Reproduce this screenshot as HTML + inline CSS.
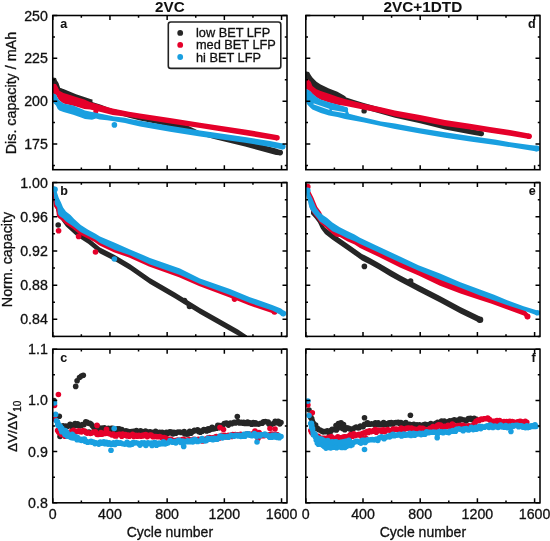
<!DOCTYPE html>
<html><head><meta charset="utf-8"><style>
html,body{margin:0;padding:0;background:#fff;}
svg{display:block;}
.wrap{will-change:transform;width:550px;height:541px;}
text{font-family:"Liberation Sans", sans-serif;fill:#111;stroke:#111;stroke-width:0.3px;}
text[font-weight=bold]{stroke-width:0.05px;}
</style></head><body>
<div class="wrap"><svg width="550" height="541" viewBox="0 0 550 541">
<g>
<rect width="550" height="541" fill="#fff"/>
<defs>
<clipPath id="clipa"><rect x="52.75" y="15.50" width="234.25" height="154.20"/></clipPath>
<clipPath id="clipb"><rect x="52.75" y="182.60" width="234.25" height="153.80"/></clipPath>
<clipPath id="clipc"><rect x="52.75" y="349.20" width="234.25" height="153.60"/></clipPath>
<clipPath id="clipd"><rect x="305.80" y="15.50" width="234.20" height="154.20"/></clipPath>
<clipPath id="clipe"><rect x="305.80" y="182.60" width="234.20" height="153.80"/></clipPath>
<clipPath id="clipf"><rect x="305.80" y="349.20" width="234.20" height="153.60"/></clipPath>
</defs>
<g clip-path="url(#clipa)">
<path d="M53.0,77.4 56.0,77.9 56.9,80.4 58.5,82.9 59.4,85.8 60.2,87.9 63.5,89.1 67.7,90.8 76.1,94.2 84.4,97.1 91.1,99.2 92.5,99.6 L92.5,104.0 91.1,103.5 84.4,101.5 76.1,99.0 67.7,96.0 63.5,95.0 60.2,93.0 59.4,92.0 58.5,90.0 56.9,88.0 56.0,85.5 53.0,85.0Z" fill="#262626"/>
<path d="M53.0,82.0 60.0,88.0 73.0,94.0 92.2,102.0 101.0,104.8 108.0,107.6 112.7,109.0 129.0,112.4 140.0,114.6 170.0,121.5 180.0,123.8 188.0,125.8 194.0,128.6 201.0,132.0 215.0,134.5 245.0,140.5 276.0,148.5 280.2,149.9 280.2,155.3 276.0,155.0 245.0,146.6 215.0,139.3 205.0,136.5 195.0,132.5 185.0,129.0 170.0,126.5 140.0,120.5 129.0,117.8 112.7,113.0 101.0,110.0 92.2,107.0 73.0,101.0 60.0,96.0 53.0,90.0Z" fill="#262626"/>
<circle cx="280.2" cy="152.6" r="2.8" fill="#262626"/>
<path d="M53.0,83.7 56.0,84.1 57.7,87.0 59.4,90.8 63.5,92.9 67.7,94.2 76.1,97.1 84.4,99.6 90.0,102.0 101.8,105.6 112.7,108.5 129.0,111.8 140.0,113.4 170.0,118.1 200.0,122.7 245.0,129.5 277.0,134.9 L277.0,140.4 245.0,135.2 200.0,128.0 170.0,123.5 140.0,118.7 129.0,117.1 112.7,114.9 101.8,112.2 90.0,109.5 84.4,109.0 76.1,106.5 67.7,104.5 63.5,103.5 59.4,100.5 57.7,98.0 56.0,95.0 53.0,93.5Z" fill="#e5002a"/>
<circle cx="277.0" cy="137.7" r="2.75" fill="#e5002a"/>
<circle cx="95.8" cy="111.6" r="2.5" fill="#e5002a"/>
<path d="M53.0,93.3 56.0,94.6 57.7,97.9 59.4,100.4 63.5,103.6 73.2,105.6 81.7,109.0 85.0,110.5 92.0,112.0 96.0,112.8 99.5,113.6 107.0,115.0 114.0,116.5 125.0,117.8 129.0,118.7 140.0,120.8 170.0,125.7 200.0,130.5 245.0,137.0 270.0,141.0 282.6,143.6 L282.6,149.6 270.0,147.0 245.0,142.7 200.0,136.5 170.0,131.7 140.0,126.4 129.0,124.0 125.0,123.1 114.0,121.3 107.0,120.3 99.5,119.5 96.0,118.6 92.0,119.8 85.0,119.1 81.7,117.8 73.2,114.8 63.5,112.0 59.4,110.5 57.7,109.0 56.0,105.5 53.0,102.6Z" fill="#199fe0"/>
<circle cx="282.6" cy="146.6" r="3.00" fill="#199fe0"/>
<circle cx="114.4" cy="124.9" r="2.8" fill="#199fe0"/>
</g>
<g clip-path="url(#clipd)">
<path d="M305.5,71.3 309.0,72.1 310.7,75.0 312.4,77.5 316.5,81.7 320.7,84.6 329.0,88.4 337.4,91.8 344.1,95.5 345.8,96.8 L345.8,102.0 344.1,101.0 337.4,98.0 329.0,95.0 320.7,92.0 316.5,90.0 312.4,86.0 310.7,83.0 309.0,81.0 305.5,80.0Z" fill="#262626"/>
<path d="M305.5,78.0 320.0,86.0 344.0,96.8 354.0,100.0 363.0,102.7 395.0,111.7 420.0,117.5 445.0,124.0 470.0,129.0 481.4,131.0 L481.4,136.2 470.0,134.3 445.0,129.5 420.0,123.2 395.0,117.7 363.0,108.7 354.0,106.0 344.0,102.5 320.0,94.0 305.5,86.0Z" fill="#262626"/>
<circle cx="481.4" cy="133.6" r="2.60" fill="#262626"/>
<circle cx="364.1" cy="110.9" r="2.7" fill="#262626"/>
<path d="M305.5,80.1 308.2,79.6 310.7,81.7 312.4,85.9 316.5,89.2 320.7,90.9 329.0,93.8 337.4,96.8 345.8,99.3 363.0,103.6 381.0,107.2 395.0,110.5 420.0,115.0 445.0,120.0 470.0,123.8 490.0,126.9 510.0,130.0 529.1,133.4 L529.1,139.0 510.0,135.8 490.0,132.7 470.0,129.6 445.0,125.9 420.0,120.9 395.0,116.4 381.0,113.0 363.0,109.5 345.8,106.0 337.4,104.8 329.0,102.5 320.7,99.8 316.5,97.4 312.4,94.1 310.7,92.0 308.2,90.1 305.5,89.2Z" fill="#e5002a"/>
<circle cx="529.1" cy="136.2" r="2.80" fill="#e5002a"/>
<path d="M305.5,89.0 308.2,89.8 310.7,91.5 312.4,93.6 316.5,97.0 320.7,99.5 329.0,102.2 337.4,104.5 344.5,106.5 347.5,110.0 349.0,113.8 363.0,117.3 381.0,121.4 395.0,123.6 420.0,128.2 445.0,132.3 470.0,135.9 495.0,139.6 510.0,142.3 530.0,145.0 536.8,145.8 536.8,151.5 517.0,148.2 499.0,145.5 470.0,141.4 445.0,137.7 420.0,133.6 395.0,129.1 381.0,125.9 363.0,122.3 345.0,119.1 337.4,117.1 329.0,115.4 320.7,112.9 312.4,109.6 310.7,107.9 307.3,104.5 305.5,101.0Z" fill="#199fe0"/>
<circle cx="536.8" cy="148.6" r="3" fill="#199fe0"/>
<circle cx="345.3" cy="109.6" r="2.8" fill="#199fe0"/>
<path d="M314 103.9L329 109.2M332.4 110.5L345 112.8" stroke="#fff" stroke-width="1.1" stroke-linecap="round" opacity="0.9"/>
</g>
<g clip-path="url(#clipb)">
<path d="M53.5,194.5 55.0,200.0 57.0,206.5 60.0,212.0 63.0,216.5 66.0,220.4 77.0,230.5 88.2,237.8 100.0,247.5 114.8,255.0 130.0,264.0 150.0,278.0 175.0,292.5 200.0,308.0 238.0,329.5 247.0,335.5 L247.0,341.5 238.0,335.5 200.0,314.0 175.0,298.5 150.0,284.0 130.0,270.0 114.8,261.0 100.0,253.5 88.2,243.8 77.0,236.5 66.0,226.4 63.0,222.5 60.0,218.0 57.0,212.5 55.0,206.0 53.5,200.5Z" fill="#262626"/>
<circle cx="58.2" cy="225.0" r="2.8" fill="#262626"/>
<circle cx="184.5" cy="300.5" r="2.8" fill="#262626"/>
<circle cx="189.5" cy="306.5" r="2.8" fill="#262626"/>
<path d="M52.5,188.5 54.0,188.4 56.2,195.3 57.7,199.8 59.9,204.2 62.1,209.4 65.0,213.5 69.5,217.0 73.2,221.0 79.8,227.0 87.2,231.8 94.6,235.8 99.0,238.5 113.8,244.7 129.0,251.4 149.0,259.9 179.0,270.6 199.0,280.4 229.0,291.0 249.0,299.2 271.2,307.0 275.0,308.0 275.5,314.6 271.2,312.7 249.0,305.3 229.0,297.2 199.0,286.1 179.0,277.2 149.0,266.6 129.0,257.5 113.8,252.3 99.0,245.2 94.6,241.9 87.2,238.2 79.8,234.5 72.4,228.6 65.0,223.8 62.1,220.7 58.4,218.1 56.9,216.2 56.2,209.6 54.0,206.6 52.5,195.2Z" fill="#e5002a"/>
<circle cx="274.5" cy="311.8" r="3" fill="#e5002a"/>
<circle cx="58.6" cy="230.7" r="2.8" fill="#e5002a"/>
<circle cx="78.6" cy="236.4" r="2.8" fill="#e5002a"/>
<circle cx="95.5" cy="252.0" r="2.8" fill="#e5002a"/>
<circle cx="234.5" cy="299.1" r="2.8" fill="#e5002a"/>
<path d="M53.5,186.5 55.0,186.4 57.2,193.3 58.7,197.8 60.9,202.2 63.1,207.4 66.0,211.5 70.5,215.0 74.2,219.0 80.8,225.0 88.2,229.8 95.6,233.8 100.0,236.5 114.8,242.7 130.0,249.4 150.0,257.9 180.0,268.6 200.0,278.4 230.0,289.0 250.0,297.2 272.2,305.0 281.0,308.5 283.6,310.6 283.6,316.4 272.2,310.5 250.0,303.1 230.0,295.0 200.0,283.9 180.0,275.0 150.0,264.4 130.0,255.3 114.8,250.1 100.0,243.0 95.6,239.7 88.2,236.0 80.8,232.3 73.4,226.4 66.0,221.6 63.1,218.5 59.4,215.9 57.9,214.0 57.2,207.4 55.0,204.4 53.5,193.0Z" fill="#199fe0"/>
<circle cx="283.2" cy="313.5" r="3" fill="#199fe0"/>
<circle cx="55.0" cy="189.4" r="2.8" fill="#199fe0"/>
<circle cx="114.4" cy="259.0" r="2.8" fill="#199fe0"/>
</g>
<g clip-path="url(#clipe)">
<path d="M311.0,209.0 315.0,213.5 318.0,218.0 321.0,222.2 325.0,227.5 332.4,233.2 340.0,238.5 347.2,243.5 355.0,249.0 362.0,253.9 370.0,258.0 378.5,262.7 390.0,269.6 400.0,275.2 411.0,281.0 418.5,285.0 440.0,296.0 460.4,306.9 480.0,316.5 L480.0,323.1 460.4,313.5 440.0,302.6 418.5,291.6 411.0,287.6 400.0,281.8 390.0,276.2 378.5,269.3 370.0,264.6 362.0,260.5 355.0,255.6 347.2,250.1 340.0,245.1 332.4,239.8 325.0,234.1 321.0,228.8 318.0,222.5 315.0,218.5 311.0,214.0Z" fill="#262626"/>
<circle cx="480.0" cy="319.8" r="3.30" fill="#262626"/>
<circle cx="364.4" cy="266.4" r="2.8" fill="#262626"/>
<circle cx="410.6" cy="281.0" r="2.8" fill="#262626"/>
<path d="M307.4,186.5 310.6,192.1 312.1,195.1 313.6,198.0 315.1,201.7 317.3,206.9 321.0,212.1 323.5,217.5 327.2,219.9 332.4,224.4 339.8,229.2 347.2,232.9 354.6,236.6 360.0,239.8 378.5,248.6 400.0,258.5 418.5,267.2 440.0,275.6 460.4,284.2 480.0,291.6 494.2,296.8 507.3,302.3 523.6,308.3 528.0,313.6 528.0,319.4 523.6,315.5 507.3,309.5 490.9,303.5 480.0,300.1 460.4,293.4 440.0,285.8 418.5,275.4 400.0,267.5 378.5,256.8 360.0,248.0 354.6,244.5 347.2,241.2 339.8,237.0 336.0,236.8 332.4,234.0 325.0,227.2 319.8,223.0 317.6,219.8 314.0,215.2 311.0,210.5 309.0,205.0Z" fill="#e5002a"/>
<circle cx="527.5" cy="316.6" r="3" fill="#e5002a"/>
<circle cx="307.6" cy="186.7" r="3" fill="#e5002a"/>
<path d="M306.2,187.0 309.4,192.6 310.9,195.6 312.4,198.5 313.9,202.2 316.1,207.4 319.8,212.6 323.5,215.5 327.2,217.9 332.4,222.4 339.8,227.2 347.2,230.9 354.6,234.6 360.0,237.8 378.5,246.6 400.0,256.5 418.5,265.2 440.0,273.6 460.4,282.2 480.0,289.6 494.2,294.8 507.3,300.3 523.6,306.3 536.7,310.2 536.7,315.2 523.6,310.6 507.3,305.2 480.0,295.5 460.4,287.8 440.0,279.7 418.5,270.8 400.0,262.5 378.5,252.6 360.0,243.9 354.6,241.2 347.2,238.3 339.8,234.6 332.4,231.2 325.0,225.0 319.8,221.4 317.6,218.5 313.9,214.0 310.9,210.3 309.4,207.4 308.0,201.5 306.2,194.8Z" fill="#199fe0"/>
<circle cx="537.4" cy="312.8" r="2.8" fill="#199fe0"/>
<circle cx="307.6" cy="190.5" r="3" fill="#199fe0"/>
</g>
<g clip-path="url(#clipc)">
<path d="M57.0 427.6a2.8 2.8 0 1 0 5.6 0a2.8 2.8 0 1 0 -5.6 0M58.6 427.7a2.8 2.8 0 1 0 5.6 0a2.8 2.8 0 1 0 -5.6 0M60.3 425.9a2.8 2.8 0 1 0 5.6 0a2.8 2.8 0 1 0 -5.6 0M61.3 428.2a2.8 2.8 0 1 0 5.6 0a2.8 2.8 0 1 0 -5.6 0M63.0 426.1a2.8 2.8 0 1 0 5.6 0a2.8 2.8 0 1 0 -5.6 0M64.9 426.3a2.8 2.8 0 1 0 5.6 0a2.8 2.8 0 1 0 -5.6 0M66.1 425.8a2.8 2.8 0 1 0 5.6 0a2.8 2.8 0 1 0 -5.6 0M67.3 424.2a2.8 2.8 0 1 0 5.6 0a2.8 2.8 0 1 0 -5.6 0M69.0 426.4a2.8 2.8 0 1 0 5.6 0a2.8 2.8 0 1 0 -5.6 0M70.6 425.9a2.8 2.8 0 1 0 5.6 0a2.8 2.8 0 1 0 -5.6 0M72.3 423.6a2.8 2.8 0 1 0 5.6 0a2.8 2.8 0 1 0 -5.6 0M73.7 425.5a2.8 2.8 0 1 0 5.6 0a2.8 2.8 0 1 0 -5.6 0M74.7 423.8a2.8 2.8 0 1 0 5.6 0a2.8 2.8 0 1 0 -5.6 0M76.5 425.4a2.8 2.8 0 1 0 5.6 0a2.8 2.8 0 1 0 -5.6 0M77.5 426.0a2.8 2.8 0 1 0 5.6 0a2.8 2.8 0 1 0 -5.6 0M78.6 425.5a2.8 2.8 0 1 0 5.6 0a2.8 2.8 0 1 0 -5.6 0M79.5 424.5a2.8 2.8 0 1 0 5.6 0a2.8 2.8 0 1 0 -5.6 0M81.1 424.7a2.8 2.8 0 1 0 5.6 0a2.8 2.8 0 1 0 -5.6 0M83.0 421.9a2.8 2.8 0 1 0 5.6 0a2.8 2.8 0 1 0 -5.6 0M83.9 422.1a2.8 2.8 0 1 0 5.6 0a2.8 2.8 0 1 0 -5.6 0M85.9 423.3a2.8 2.8 0 1 0 5.6 0a2.8 2.8 0 1 0 -5.6 0M87.0 423.4a2.8 2.8 0 1 0 5.6 0a2.8 2.8 0 1 0 -5.6 0M88.2 424.1a2.8 2.8 0 1 0 5.6 0a2.8 2.8 0 1 0 -5.6 0M89.4 425.6a2.8 2.8 0 1 0 5.6 0a2.8 2.8 0 1 0 -5.6 0M90.9 427.5a2.8 2.8 0 1 0 5.6 0a2.8 2.8 0 1 0 -5.6 0M92.3 428.4a2.8 2.8 0 1 0 5.6 0a2.8 2.8 0 1 0 -5.6 0M93.9 429.0a2.8 2.8 0 1 0 5.6 0a2.8 2.8 0 1 0 -5.6 0M95.1 426.7a2.8 2.8 0 1 0 5.6 0a2.8 2.8 0 1 0 -5.6 0M96.7 429.7a2.8 2.8 0 1 0 5.6 0a2.8 2.8 0 1 0 -5.6 0M98.1 428.8a2.8 2.8 0 1 0 5.6 0a2.8 2.8 0 1 0 -5.6 0M99.4 428.1a2.8 2.8 0 1 0 5.6 0a2.8 2.8 0 1 0 -5.6 0M100.8 429.3a2.8 2.8 0 1 0 5.6 0a2.8 2.8 0 1 0 -5.6 0M101.6 427.8a2.8 2.8 0 1 0 5.6 0a2.8 2.8 0 1 0 -5.6 0M103.4 430.9a2.8 2.8 0 1 0 5.6 0a2.8 2.8 0 1 0 -5.6 0M104.1 430.4a2.8 2.8 0 1 0 5.6 0a2.8 2.8 0 1 0 -5.6 0M105.6 428.4a2.8 2.8 0 1 0 5.6 0a2.8 2.8 0 1 0 -5.6 0M106.8 430.5a2.8 2.8 0 1 0 5.6 0a2.8 2.8 0 1 0 -5.6 0M108.6 428.2a2.8 2.8 0 1 0 5.6 0a2.8 2.8 0 1 0 -5.6 0M109.7 428.3a2.8 2.8 0 1 0 5.6 0a2.8 2.8 0 1 0 -5.6 0M111.1 429.4a2.8 2.8 0 1 0 5.6 0a2.8 2.8 0 1 0 -5.6 0M112.5 431.5a2.8 2.8 0 1 0 5.6 0a2.8 2.8 0 1 0 -5.6 0M113.5 431.7a2.8 2.8 0 1 0 5.6 0a2.8 2.8 0 1 0 -5.6 0M114.7 428.9a2.8 2.8 0 1 0 5.6 0a2.8 2.8 0 1 0 -5.6 0M116.3 428.9a2.8 2.8 0 1 0 5.6 0a2.8 2.8 0 1 0 -5.6 0M117.3 430.2a2.8 2.8 0 1 0 5.6 0a2.8 2.8 0 1 0 -5.6 0M119.0 429.6a2.8 2.8 0 1 0 5.6 0a2.8 2.8 0 1 0 -5.6 0M119.8 432.0a2.8 2.8 0 1 0 5.6 0a2.8 2.8 0 1 0 -5.6 0M121.4 432.4a2.8 2.8 0 1 0 5.6 0a2.8 2.8 0 1 0 -5.6 0M123.2 430.7a2.8 2.8 0 1 0 5.6 0a2.8 2.8 0 1 0 -5.6 0M124.2 431.3a2.8 2.8 0 1 0 5.6 0a2.8 2.8 0 1 0 -5.6 0M125.6 431.6a2.8 2.8 0 1 0 5.6 0a2.8 2.8 0 1 0 -5.6 0M126.9 431.9a2.8 2.8 0 1 0 5.6 0a2.8 2.8 0 1 0 -5.6 0M128.6 431.6a2.8 2.8 0 1 0 5.6 0a2.8 2.8 0 1 0 -5.6 0M129.5 432.4a2.8 2.8 0 1 0 5.6 0a2.8 2.8 0 1 0 -5.6 0M130.7 431.2a2.8 2.8 0 1 0 5.6 0a2.8 2.8 0 1 0 -5.6 0M132.6 432.1a2.8 2.8 0 1 0 5.6 0a2.8 2.8 0 1 0 -5.6 0M133.6 430.5a2.8 2.8 0 1 0 5.6 0a2.8 2.8 0 1 0 -5.6 0M134.9 432.3a2.8 2.8 0 1 0 5.6 0a2.8 2.8 0 1 0 -5.6 0M135.9 432.5a2.8 2.8 0 1 0 5.6 0a2.8 2.8 0 1 0 -5.6 0M137.8 430.8a2.8 2.8 0 1 0 5.6 0a2.8 2.8 0 1 0 -5.6 0M139.1 432.1a2.8 2.8 0 1 0 5.6 0a2.8 2.8 0 1 0 -5.6 0M140.5 431.8a2.8 2.8 0 1 0 5.6 0a2.8 2.8 0 1 0 -5.6 0M141.9 433.1a2.8 2.8 0 1 0 5.6 0a2.8 2.8 0 1 0 -5.6 0M142.7 431.0a2.8 2.8 0 1 0 5.6 0a2.8 2.8 0 1 0 -5.6 0M144.6 433.9a2.8 2.8 0 1 0 5.6 0a2.8 2.8 0 1 0 -5.6 0M145.6 432.3a2.8 2.8 0 1 0 5.6 0a2.8 2.8 0 1 0 -5.6 0M147.3 431.9a2.8 2.8 0 1 0 5.6 0a2.8 2.8 0 1 0 -5.6 0M148.4 432.0a2.8 2.8 0 1 0 5.6 0a2.8 2.8 0 1 0 -5.6 0M149.8 433.0a2.8 2.8 0 1 0 5.6 0a2.8 2.8 0 1 0 -5.6 0M151.0 432.4a2.8 2.8 0 1 0 5.6 0a2.8 2.8 0 1 0 -5.6 0M152.8 431.4a2.8 2.8 0 1 0 5.6 0a2.8 2.8 0 1 0 -5.6 0M153.9 433.8a2.8 2.8 0 1 0 5.6 0a2.8 2.8 0 1 0 -5.6 0M155.0 432.3a2.8 2.8 0 1 0 5.6 0a2.8 2.8 0 1 0 -5.6 0M156.8 432.4a2.8 2.8 0 1 0 5.6 0a2.8 2.8 0 1 0 -5.6 0M157.6 433.2a2.8 2.8 0 1 0 5.6 0a2.8 2.8 0 1 0 -5.6 0M159.4 432.2a2.8 2.8 0 1 0 5.6 0a2.8 2.8 0 1 0 -5.6 0M160.4 432.9a2.8 2.8 0 1 0 5.6 0a2.8 2.8 0 1 0 -5.6 0M162.1 433.1a2.8 2.8 0 1 0 5.6 0a2.8 2.8 0 1 0 -5.6 0M163.5 432.2a2.8 2.8 0 1 0 5.6 0a2.8 2.8 0 1 0 -5.6 0M164.4 433.6a2.8 2.8 0 1 0 5.6 0a2.8 2.8 0 1 0 -5.6 0M166.2 432.9a2.8 2.8 0 1 0 5.6 0a2.8 2.8 0 1 0 -5.6 0M167.0 431.8a2.8 2.8 0 1 0 5.6 0a2.8 2.8 0 1 0 -5.6 0M168.6 432.0a2.8 2.8 0 1 0 5.6 0a2.8 2.8 0 1 0 -5.6 0M170.2 434.0a2.8 2.8 0 1 0 5.6 0a2.8 2.8 0 1 0 -5.6 0M171.1 432.2a2.8 2.8 0 1 0 5.6 0a2.8 2.8 0 1 0 -5.6 0M173.0 433.3a2.8 2.8 0 1 0 5.6 0a2.8 2.8 0 1 0 -5.6 0M174.4 432.3a2.8 2.8 0 1 0 5.6 0a2.8 2.8 0 1 0 -5.6 0M175.2 432.1a2.8 2.8 0 1 0 5.6 0a2.8 2.8 0 1 0 -5.6 0M177.1 432.0a2.8 2.8 0 1 0 5.6 0a2.8 2.8 0 1 0 -5.6 0M178.2 432.4a2.8 2.8 0 1 0 5.6 0a2.8 2.8 0 1 0 -5.6 0M179.6 432.4a2.8 2.8 0 1 0 5.6 0a2.8 2.8 0 1 0 -5.6 0M181.4 431.5a2.8 2.8 0 1 0 5.6 0a2.8 2.8 0 1 0 -5.6 0M182.0 434.0a2.8 2.8 0 1 0 5.6 0a2.8 2.8 0 1 0 -5.6 0M184.1 434.1a2.8 2.8 0 1 0 5.6 0a2.8 2.8 0 1 0 -5.6 0M185.1 433.9a2.8 2.8 0 1 0 5.6 0a2.8 2.8 0 1 0 -5.6 0M186.9 431.4a2.8 2.8 0 1 0 5.6 0a2.8 2.8 0 1 0 -5.6 0M188.1 433.2a2.8 2.8 0 1 0 5.6 0a2.8 2.8 0 1 0 -5.6 0M189.3 432.1a2.8 2.8 0 1 0 5.6 0a2.8 2.8 0 1 0 -5.6 0M190.4 431.3a2.8 2.8 0 1 0 5.6 0a2.8 2.8 0 1 0 -5.6 0M191.6 430.3a2.8 2.8 0 1 0 5.6 0a2.8 2.8 0 1 0 -5.6 0M193.3 430.8a2.8 2.8 0 1 0 5.6 0a2.8 2.8 0 1 0 -5.6 0M194.8 429.9a2.8 2.8 0 1 0 5.6 0a2.8 2.8 0 1 0 -5.6 0M196.2 431.8a2.8 2.8 0 1 0 5.6 0a2.8 2.8 0 1 0 -5.6 0M197.5 432.3a2.8 2.8 0 1 0 5.6 0a2.8 2.8 0 1 0 -5.6 0M198.9 430.9a2.8 2.8 0 1 0 5.6 0a2.8 2.8 0 1 0 -5.6 0M199.5 431.2a2.8 2.8 0 1 0 5.6 0a2.8 2.8 0 1 0 -5.6 0M201.0 429.5a2.8 2.8 0 1 0 5.6 0a2.8 2.8 0 1 0 -5.6 0M202.8 429.9a2.8 2.8 0 1 0 5.6 0a2.8 2.8 0 1 0 -5.6 0M203.9 430.9a2.8 2.8 0 1 0 5.6 0a2.8 2.8 0 1 0 -5.6 0M205.4 428.7a2.8 2.8 0 1 0 5.6 0a2.8 2.8 0 1 0 -5.6 0M206.5 430.1a2.8 2.8 0 1 0 5.6 0a2.8 2.8 0 1 0 -5.6 0M208.1 429.5a2.8 2.8 0 1 0 5.6 0a2.8 2.8 0 1 0 -5.6 0M209.3 427.3a2.8 2.8 0 1 0 5.6 0a2.8 2.8 0 1 0 -5.6 0M210.8 429.0a2.8 2.8 0 1 0 5.6 0a2.8 2.8 0 1 0 -5.6 0M211.8 428.6a2.8 2.8 0 1 0 5.6 0a2.8 2.8 0 1 0 -5.6 0M213.8 428.3a2.8 2.8 0 1 0 5.6 0a2.8 2.8 0 1 0 -5.6 0M215.0 425.3a2.8 2.8 0 1 0 5.6 0a2.8 2.8 0 1 0 -5.6 0M216.1 427.7a2.8 2.8 0 1 0 5.6 0a2.8 2.8 0 1 0 -5.6 0M217.0 425.5a2.8 2.8 0 1 0 5.6 0a2.8 2.8 0 1 0 -5.6 0M218.5 425.9a2.8 2.8 0 1 0 5.6 0a2.8 2.8 0 1 0 -5.6 0M219.9 425.4a2.8 2.8 0 1 0 5.6 0a2.8 2.8 0 1 0 -5.6 0M221.5 423.5a2.8 2.8 0 1 0 5.6 0a2.8 2.8 0 1 0 -5.6 0M222.2 423.5a2.8 2.8 0 1 0 5.6 0a2.8 2.8 0 1 0 -5.6 0M223.6 423.0a2.8 2.8 0 1 0 5.6 0a2.8 2.8 0 1 0 -5.6 0M225.6 425.1a2.8 2.8 0 1 0 5.6 0a2.8 2.8 0 1 0 -5.6 0M226.2 423.8a2.8 2.8 0 1 0 5.6 0a2.8 2.8 0 1 0 -5.6 0M227.6 423.0a2.8 2.8 0 1 0 5.6 0a2.8 2.8 0 1 0 -5.6 0M228.9 423.8a2.8 2.8 0 1 0 5.6 0a2.8 2.8 0 1 0 -5.6 0M230.4 422.7a2.8 2.8 0 1 0 5.6 0a2.8 2.8 0 1 0 -5.6 0M231.4 422.4a2.8 2.8 0 1 0 5.6 0a2.8 2.8 0 1 0 -5.6 0M232.6 422.9a2.8 2.8 0 1 0 5.6 0a2.8 2.8 0 1 0 -5.6 0M234.4 422.1a2.8 2.8 0 1 0 5.6 0a2.8 2.8 0 1 0 -5.6 0M235.2 421.5a2.8 2.8 0 1 0 5.6 0a2.8 2.8 0 1 0 -5.6 0M236.8 422.9a2.8 2.8 0 1 0 5.6 0a2.8 2.8 0 1 0 -5.6 0M238.4 422.2a2.8 2.8 0 1 0 5.6 0a2.8 2.8 0 1 0 -5.6 0M239.8 423.1a2.8 2.8 0 1 0 5.6 0a2.8 2.8 0 1 0 -5.6 0M240.8 422.3a2.8 2.8 0 1 0 5.6 0a2.8 2.8 0 1 0 -5.6 0M242.2 423.4a2.8 2.8 0 1 0 5.6 0a2.8 2.8 0 1 0 -5.6 0M243.5 423.4a2.8 2.8 0 1 0 5.6 0a2.8 2.8 0 1 0 -5.6 0M244.8 422.0a2.8 2.8 0 1 0 5.6 0a2.8 2.8 0 1 0 -5.6 0M246.2 423.5a2.8 2.8 0 1 0 5.6 0a2.8 2.8 0 1 0 -5.6 0M247.2 422.7a2.8 2.8 0 1 0 5.6 0a2.8 2.8 0 1 0 -5.6 0M248.8 424.2a2.8 2.8 0 1 0 5.6 0a2.8 2.8 0 1 0 -5.6 0M250.5 422.6a2.8 2.8 0 1 0 5.6 0a2.8 2.8 0 1 0 -5.6 0M251.9 423.9a2.8 2.8 0 1 0 5.6 0a2.8 2.8 0 1 0 -5.6 0M252.7 422.9a2.8 2.8 0 1 0 5.6 0a2.8 2.8 0 1 0 -5.6 0M254.0 424.0a2.8 2.8 0 1 0 5.6 0a2.8 2.8 0 1 0 -5.6 0M255.8 424.2a2.8 2.8 0 1 0 5.6 0a2.8 2.8 0 1 0 -5.6 0M257.2 423.5a2.8 2.8 0 1 0 5.6 0a2.8 2.8 0 1 0 -5.6 0M258.5 423.2a2.8 2.8 0 1 0 5.6 0a2.8 2.8 0 1 0 -5.6 0M259.4 423.3a2.8 2.8 0 1 0 5.6 0a2.8 2.8 0 1 0 -5.6 0M260.7 421.9a2.8 2.8 0 1 0 5.6 0a2.8 2.8 0 1 0 -5.6 0M262.6 421.5a2.8 2.8 0 1 0 5.6 0a2.8 2.8 0 1 0 -5.6 0M263.4 421.7a2.8 2.8 0 1 0 5.6 0a2.8 2.8 0 1 0 -5.6 0M265.4 422.0a2.8 2.8 0 1 0 5.6 0a2.8 2.8 0 1 0 -5.6 0M266.1 424.1a2.8 2.8 0 1 0 5.6 0a2.8 2.8 0 1 0 -5.6 0M267.5 424.1a2.8 2.8 0 1 0 5.6 0a2.8 2.8 0 1 0 -5.6 0M269.3 424.1a2.8 2.8 0 1 0 5.6 0a2.8 2.8 0 1 0 -5.6 0M271.1 423.2a2.8 2.8 0 1 0 5.6 0a2.8 2.8 0 1 0 -5.6 0M272.4 421.3a2.8 2.8 0 1 0 5.6 0a2.8 2.8 0 1 0 -5.6 0M273.9 422.8a2.8 2.8 0 1 0 5.6 0a2.8 2.8 0 1 0 -5.6 0M275.4 421.4a2.8 2.8 0 1 0 5.6 0a2.8 2.8 0 1 0 -5.6 0M276.9 424.0a2.8 2.8 0 1 0 5.6 0a2.8 2.8 0 1 0 -5.6 0M278.2 422.5a2.8 2.8 0 1 0 5.6 0a2.8 2.8 0 1 0 -5.6 0" fill="#262626"/>
<circle cx="54.0" cy="400.5" r="2.8" fill="#262626"/>
<circle cx="59.3" cy="416.2" r="2.8" fill="#262626"/>
<circle cx="75.7" cy="386.4" r="2.8" fill="#262626"/>
<circle cx="77.1" cy="380.8" r="2.8" fill="#262626"/>
<circle cx="79.5" cy="377.5" r="2.8" fill="#262626"/>
<circle cx="81.5" cy="376.0" r="2.8" fill="#262626"/>
<circle cx="83.3" cy="375.2" r="2.8" fill="#262626"/>
<circle cx="237.3" cy="416.5" r="2.8" fill="#262626"/>
<circle cx="60.0" cy="436.5" r="2.8" fill="#262626"/>
<circle cx="85.0" cy="431.5" r="2.8" fill="#262626"/>
<circle cx="89.0" cy="432.0" r="2.8" fill="#262626"/>
<path d="M54.8 430.6a2.8 2.8 0 1 0 5.6 0a2.8 2.8 0 1 0 -5.6 0M55.8 432.1a2.8 2.8 0 1 0 5.6 0a2.8 2.8 0 1 0 -5.6 0M56.6 433.0a2.8 2.8 0 1 0 5.6 0a2.8 2.8 0 1 0 -5.6 0M56.9 432.9a2.8 2.8 0 1 0 5.6 0a2.8 2.8 0 1 0 -5.6 0M58.6 434.4a2.8 2.8 0 1 0 5.6 0a2.8 2.8 0 1 0 -5.6 0M59.9 433.7a2.8 2.8 0 1 0 5.6 0a2.8 2.8 0 1 0 -5.6 0M60.8 434.7a2.8 2.8 0 1 0 5.6 0a2.8 2.8 0 1 0 -5.6 0M62.2 436.2a2.8 2.8 0 1 0 5.6 0a2.8 2.8 0 1 0 -5.6 0M63.1 434.6a2.8 2.8 0 1 0 5.6 0a2.8 2.8 0 1 0 -5.6 0M64.5 435.5a2.8 2.8 0 1 0 5.6 0a2.8 2.8 0 1 0 -5.6 0M66.2 432.9a2.8 2.8 0 1 0 5.6 0a2.8 2.8 0 1 0 -5.6 0M67.4 432.1a2.8 2.8 0 1 0 5.6 0a2.8 2.8 0 1 0 -5.6 0M68.5 431.5a2.8 2.8 0 1 0 5.6 0a2.8 2.8 0 1 0 -5.6 0M69.3 432.6a2.8 2.8 0 1 0 5.6 0a2.8 2.8 0 1 0 -5.6 0M70.7 430.4a2.8 2.8 0 1 0 5.6 0a2.8 2.8 0 1 0 -5.6 0M72.6 431.4a2.8 2.8 0 1 0 5.6 0a2.8 2.8 0 1 0 -5.6 0M73.7 431.6a2.8 2.8 0 1 0 5.6 0a2.8 2.8 0 1 0 -5.6 0M75.6 430.9a2.8 2.8 0 1 0 5.6 0a2.8 2.8 0 1 0 -5.6 0M77.0 431.6a2.8 2.8 0 1 0 5.6 0a2.8 2.8 0 1 0 -5.6 0M78.6 432.0a2.8 2.8 0 1 0 5.6 0a2.8 2.8 0 1 0 -5.6 0M80.0 430.8a2.8 2.8 0 1 0 5.6 0a2.8 2.8 0 1 0 -5.6 0M80.8 430.8a2.8 2.8 0 1 0 5.6 0a2.8 2.8 0 1 0 -5.6 0M81.9 431.0a2.8 2.8 0 1 0 5.6 0a2.8 2.8 0 1 0 -5.6 0M83.3 432.6a2.8 2.8 0 1 0 5.6 0a2.8 2.8 0 1 0 -5.6 0M84.3 433.2a2.8 2.8 0 1 0 5.6 0a2.8 2.8 0 1 0 -5.6 0M85.8 432.7a2.8 2.8 0 1 0 5.6 0a2.8 2.8 0 1 0 -5.6 0M87.5 433.5a2.8 2.8 0 1 0 5.6 0a2.8 2.8 0 1 0 -5.6 0M88.7 433.3a2.8 2.8 0 1 0 5.6 0a2.8 2.8 0 1 0 -5.6 0M90.7 432.1a2.8 2.8 0 1 0 5.6 0a2.8 2.8 0 1 0 -5.6 0M92.6 431.9a2.8 2.8 0 1 0 5.6 0a2.8 2.8 0 1 0 -5.6 0M94.1 434.2a2.8 2.8 0 1 0 5.6 0a2.8 2.8 0 1 0 -5.6 0M95.1 434.4a2.8 2.8 0 1 0 5.6 0a2.8 2.8 0 1 0 -5.6 0M97.1 434.2a2.8 2.8 0 1 0 5.6 0a2.8 2.8 0 1 0 -5.6 0M98.1 432.5a2.8 2.8 0 1 0 5.6 0a2.8 2.8 0 1 0 -5.6 0M99.5 434.3a2.8 2.8 0 1 0 5.6 0a2.8 2.8 0 1 0 -5.6 0M100.9 433.4a2.8 2.8 0 1 0 5.6 0a2.8 2.8 0 1 0 -5.6 0M102.7 433.5a2.8 2.8 0 1 0 5.6 0a2.8 2.8 0 1 0 -5.6 0M103.6 431.7a2.8 2.8 0 1 0 5.6 0a2.8 2.8 0 1 0 -5.6 0M105.1 433.1a2.8 2.8 0 1 0 5.6 0a2.8 2.8 0 1 0 -5.6 0M106.2 433.6a2.8 2.8 0 1 0 5.6 0a2.8 2.8 0 1 0 -5.6 0M108.2 434.3a2.8 2.8 0 1 0 5.6 0a2.8 2.8 0 1 0 -5.6 0M109.0 435.0a2.8 2.8 0 1 0 5.6 0a2.8 2.8 0 1 0 -5.6 0M110.5 434.0a2.8 2.8 0 1 0 5.6 0a2.8 2.8 0 1 0 -5.6 0M112.3 435.9a2.8 2.8 0 1 0 5.6 0a2.8 2.8 0 1 0 -5.6 0M113.4 435.9a2.8 2.8 0 1 0 5.6 0a2.8 2.8 0 1 0 -5.6 0M114.9 434.5a2.8 2.8 0 1 0 5.6 0a2.8 2.8 0 1 0 -5.6 0M116.1 434.2a2.8 2.8 0 1 0 5.6 0a2.8 2.8 0 1 0 -5.6 0M117.2 434.2a2.8 2.8 0 1 0 5.6 0a2.8 2.8 0 1 0 -5.6 0M119.0 436.2a2.8 2.8 0 1 0 5.6 0a2.8 2.8 0 1 0 -5.6 0M119.9 434.0a2.8 2.8 0 1 0 5.6 0a2.8 2.8 0 1 0 -5.6 0M121.9 435.2a2.8 2.8 0 1 0 5.6 0a2.8 2.8 0 1 0 -5.6 0M122.8 434.5a2.8 2.8 0 1 0 5.6 0a2.8 2.8 0 1 0 -5.6 0M124.3 435.9a2.8 2.8 0 1 0 5.6 0a2.8 2.8 0 1 0 -5.6 0M125.5 435.0a2.8 2.8 0 1 0 5.6 0a2.8 2.8 0 1 0 -5.6 0M126.5 436.2a2.8 2.8 0 1 0 5.6 0a2.8 2.8 0 1 0 -5.6 0M127.8 435.2a2.8 2.8 0 1 0 5.6 0a2.8 2.8 0 1 0 -5.6 0M129.8 434.4a2.8 2.8 0 1 0 5.6 0a2.8 2.8 0 1 0 -5.6 0M131.1 436.4a2.8 2.8 0 1 0 5.6 0a2.8 2.8 0 1 0 -5.6 0M132.3 436.0a2.8 2.8 0 1 0 5.6 0a2.8 2.8 0 1 0 -5.6 0M133.2 435.2a2.8 2.8 0 1 0 5.6 0a2.8 2.8 0 1 0 -5.6 0M134.6 436.2a2.8 2.8 0 1 0 5.6 0a2.8 2.8 0 1 0 -5.6 0M136.1 435.2a2.8 2.8 0 1 0 5.6 0a2.8 2.8 0 1 0 -5.6 0M138.1 436.2a2.8 2.8 0 1 0 5.6 0a2.8 2.8 0 1 0 -5.6 0M139.4 435.3a2.8 2.8 0 1 0 5.6 0a2.8 2.8 0 1 0 -5.6 0M140.4 436.0a2.8 2.8 0 1 0 5.6 0a2.8 2.8 0 1 0 -5.6 0M141.7 434.9a2.8 2.8 0 1 0 5.6 0a2.8 2.8 0 1 0 -5.6 0M143.0 434.6a2.8 2.8 0 1 0 5.6 0a2.8 2.8 0 1 0 -5.6 0M144.4 436.6a2.8 2.8 0 1 0 5.6 0a2.8 2.8 0 1 0 -5.6 0M146.2 435.8a2.8 2.8 0 1 0 5.6 0a2.8 2.8 0 1 0 -5.6 0M147.2 435.1a2.8 2.8 0 1 0 5.6 0a2.8 2.8 0 1 0 -5.6 0M148.3 435.1a2.8 2.8 0 1 0 5.6 0a2.8 2.8 0 1 0 -5.6 0M150.3 436.7a2.8 2.8 0 1 0 5.6 0a2.8 2.8 0 1 0 -5.6 0M151.4 436.6a2.8 2.8 0 1 0 5.6 0a2.8 2.8 0 1 0 -5.6 0M153.1 436.5a2.8 2.8 0 1 0 5.6 0a2.8 2.8 0 1 0 -5.6 0M154.5 436.8a2.8 2.8 0 1 0 5.6 0a2.8 2.8 0 1 0 -5.6 0M155.7 436.8a2.8 2.8 0 1 0 5.6 0a2.8 2.8 0 1 0 -5.6 0M157.0 436.5a2.8 2.8 0 1 0 5.6 0a2.8 2.8 0 1 0 -5.6 0M158.8 437.3a2.8 2.8 0 1 0 5.6 0a2.8 2.8 0 1 0 -5.6 0M159.8 438.2a2.8 2.8 0 1 0 5.6 0a2.8 2.8 0 1 0 -5.6 0M161.4 437.6a2.8 2.8 0 1 0 5.6 0a2.8 2.8 0 1 0 -5.6 0M162.3 437.9a2.8 2.8 0 1 0 5.6 0a2.8 2.8 0 1 0 -5.6 0M163.8 438.5a2.8 2.8 0 1 0 5.6 0a2.8 2.8 0 1 0 -5.6 0M165.4 439.2a2.8 2.8 0 1 0 5.6 0a2.8 2.8 0 1 0 -5.6 0M166.9 439.4a2.8 2.8 0 1 0 5.6 0a2.8 2.8 0 1 0 -5.6 0M168.0 439.4a2.8 2.8 0 1 0 5.6 0a2.8 2.8 0 1 0 -5.6 0M169.7 440.2a2.8 2.8 0 1 0 5.6 0a2.8 2.8 0 1 0 -5.6 0M170.7 440.5a2.8 2.8 0 1 0 5.6 0a2.8 2.8 0 1 0 -5.6 0M172.5 440.5a2.8 2.8 0 1 0 5.6 0a2.8 2.8 0 1 0 -5.6 0M173.9 441.1a2.8 2.8 0 1 0 5.6 0a2.8 2.8 0 1 0 -5.6 0M174.8 440.1a2.8 2.8 0 1 0 5.6 0a2.8 2.8 0 1 0 -5.6 0M175.9 440.9a2.8 2.8 0 1 0 5.6 0a2.8 2.8 0 1 0 -5.6 0M177.8 440.1a2.8 2.8 0 1 0 5.6 0a2.8 2.8 0 1 0 -5.6 0M178.9 440.7a2.8 2.8 0 1 0 5.6 0a2.8 2.8 0 1 0 -5.6 0M180.3 439.4a2.8 2.8 0 1 0 5.6 0a2.8 2.8 0 1 0 -5.6 0M181.6 440.4a2.8 2.8 0 1 0 5.6 0a2.8 2.8 0 1 0 -5.6 0M182.9 440.0a2.8 2.8 0 1 0 5.6 0a2.8 2.8 0 1 0 -5.6 0M184.1 440.9a2.8 2.8 0 1 0 5.6 0a2.8 2.8 0 1 0 -5.6 0M185.5 440.8a2.8 2.8 0 1 0 5.6 0a2.8 2.8 0 1 0 -5.6 0M186.3 439.5a2.8 2.8 0 1 0 5.6 0a2.8 2.8 0 1 0 -5.6 0M187.9 440.7a2.8 2.8 0 1 0 5.6 0a2.8 2.8 0 1 0 -5.6 0M189.1 440.8a2.8 2.8 0 1 0 5.6 0a2.8 2.8 0 1 0 -5.6 0M190.7 439.3a2.8 2.8 0 1 0 5.6 0a2.8 2.8 0 1 0 -5.6 0M191.9 439.7a2.8 2.8 0 1 0 5.6 0a2.8 2.8 0 1 0 -5.6 0M192.9 439.5a2.8 2.8 0 1 0 5.6 0a2.8 2.8 0 1 0 -5.6 0M194.4 439.7a2.8 2.8 0 1 0 5.6 0a2.8 2.8 0 1 0 -5.6 0M195.6 439.4a2.8 2.8 0 1 0 5.6 0a2.8 2.8 0 1 0 -5.6 0M197.2 440.2a2.8 2.8 0 1 0 5.6 0a2.8 2.8 0 1 0 -5.6 0M198.7 440.4a2.8 2.8 0 1 0 5.6 0a2.8 2.8 0 1 0 -5.6 0M199.7 440.9a2.8 2.8 0 1 0 5.6 0a2.8 2.8 0 1 0 -5.6 0M200.9 439.5a2.8 2.8 0 1 0 5.6 0a2.8 2.8 0 1 0 -5.6 0M202.5 439.2a2.8 2.8 0 1 0 5.6 0a2.8 2.8 0 1 0 -5.6 0M203.7 439.9a2.8 2.8 0 1 0 5.6 0a2.8 2.8 0 1 0 -5.6 0M205.3 437.8a2.8 2.8 0 1 0 5.6 0a2.8 2.8 0 1 0 -5.6 0M206.8 437.6a2.8 2.8 0 1 0 5.6 0a2.8 2.8 0 1 0 -5.6 0M208.1 437.9a2.8 2.8 0 1 0 5.6 0a2.8 2.8 0 1 0 -5.6 0M209.5 439.1a2.8 2.8 0 1 0 5.6 0a2.8 2.8 0 1 0 -5.6 0M211.1 437.6a2.8 2.8 0 1 0 5.6 0a2.8 2.8 0 1 0 -5.6 0M212.5 437.8a2.8 2.8 0 1 0 5.6 0a2.8 2.8 0 1 0 -5.6 0M213.5 436.5a2.8 2.8 0 1 0 5.6 0a2.8 2.8 0 1 0 -5.6 0M215.0 437.3a2.8 2.8 0 1 0 5.6 0a2.8 2.8 0 1 0 -5.6 0M216.6 438.1a2.8 2.8 0 1 0 5.6 0a2.8 2.8 0 1 0 -5.6 0M217.7 436.4a2.8 2.8 0 1 0 5.6 0a2.8 2.8 0 1 0 -5.6 0M219.3 435.4a2.8 2.8 0 1 0 5.6 0a2.8 2.8 0 1 0 -5.6 0M220.0 436.6a2.8 2.8 0 1 0 5.6 0a2.8 2.8 0 1 0 -5.6 0M221.8 435.4a2.8 2.8 0 1 0 5.6 0a2.8 2.8 0 1 0 -5.6 0M223.2 437.0a2.8 2.8 0 1 0 5.6 0a2.8 2.8 0 1 0 -5.6 0M224.3 435.7a2.8 2.8 0 1 0 5.6 0a2.8 2.8 0 1 0 -5.6 0M225.6 435.2a2.8 2.8 0 1 0 5.6 0a2.8 2.8 0 1 0 -5.6 0M227.5 435.2a2.8 2.8 0 1 0 5.6 0a2.8 2.8 0 1 0 -5.6 0M228.9 436.4a2.8 2.8 0 1 0 5.6 0a2.8 2.8 0 1 0 -5.6 0M229.9 434.6a2.8 2.8 0 1 0 5.6 0a2.8 2.8 0 1 0 -5.6 0M231.6 435.0a2.8 2.8 0 1 0 5.6 0a2.8 2.8 0 1 0 -5.6 0M232.5 434.5a2.8 2.8 0 1 0 5.6 0a2.8 2.8 0 1 0 -5.6 0M234.3 434.9a2.8 2.8 0 1 0 5.6 0a2.8 2.8 0 1 0 -5.6 0M235.1 434.8a2.8 2.8 0 1 0 5.6 0a2.8 2.8 0 1 0 -5.6 0M236.3 435.1a2.8 2.8 0 1 0 5.6 0a2.8 2.8 0 1 0 -5.6 0M237.9 434.3a2.8 2.8 0 1 0 5.6 0a2.8 2.8 0 1 0 -5.6 0M239.6 435.6a2.8 2.8 0 1 0 5.6 0a2.8 2.8 0 1 0 -5.6 0M240.3 434.8a2.8 2.8 0 1 0 5.6 0a2.8 2.8 0 1 0 -5.6 0M241.9 435.8a2.8 2.8 0 1 0 5.6 0a2.8 2.8 0 1 0 -5.6 0M243.6 434.1a2.8 2.8 0 1 0 5.6 0a2.8 2.8 0 1 0 -5.6 0M244.6 433.8a2.8 2.8 0 1 0 5.6 0a2.8 2.8 0 1 0 -5.6 0M246.5 434.1a2.8 2.8 0 1 0 5.6 0a2.8 2.8 0 1 0 -5.6 0M247.6 434.5a2.8 2.8 0 1 0 5.6 0a2.8 2.8 0 1 0 -5.6 0M249.0 434.8a2.8 2.8 0 1 0 5.6 0a2.8 2.8 0 1 0 -5.6 0M250.4 433.6a2.8 2.8 0 1 0 5.6 0a2.8 2.8 0 1 0 -5.6 0M251.7 434.1a2.8 2.8 0 1 0 5.6 0a2.8 2.8 0 1 0 -5.6 0M252.8 434.2a2.8 2.8 0 1 0 5.6 0a2.8 2.8 0 1 0 -5.6 0M253.9 434.7a2.8 2.8 0 1 0 5.6 0a2.8 2.8 0 1 0 -5.6 0M255.4 434.4a2.8 2.8 0 1 0 5.6 0a2.8 2.8 0 1 0 -5.6 0M256.9 435.0a2.8 2.8 0 1 0 5.6 0a2.8 2.8 0 1 0 -5.6 0M257.6 434.2a2.8 2.8 0 1 0 5.6 0a2.8 2.8 0 1 0 -5.6 0M259.3 435.8a2.8 2.8 0 1 0 5.6 0a2.8 2.8 0 1 0 -5.6 0M260.9 435.0a2.8 2.8 0 1 0 5.6 0a2.8 2.8 0 1 0 -5.6 0M261.5 435.6a2.8 2.8 0 1 0 5.6 0a2.8 2.8 0 1 0 -5.6 0M263.1 435.2a2.8 2.8 0 1 0 5.6 0a2.8 2.8 0 1 0 -5.6 0M264.7 435.3a2.8 2.8 0 1 0 5.6 0a2.8 2.8 0 1 0 -5.6 0M265.9 435.9a2.8 2.8 0 1 0 5.6 0a2.8 2.8 0 1 0 -5.6 0M267.2 434.6a2.8 2.8 0 1 0 5.6 0a2.8 2.8 0 1 0 -5.6 0M269.0 434.0a2.8 2.8 0 1 0 5.6 0a2.8 2.8 0 1 0 -5.6 0M269.9 435.5a2.8 2.8 0 1 0 5.6 0a2.8 2.8 0 1 0 -5.6 0M271.1 435.4a2.8 2.8 0 1 0 5.6 0a2.8 2.8 0 1 0 -5.6 0M273.0 434.4a2.8 2.8 0 1 0 5.6 0a2.8 2.8 0 1 0 -5.6 0M274.2 434.5a2.8 2.8 0 1 0 5.6 0a2.8 2.8 0 1 0 -5.6 0" fill="#e5002a"/>
<circle cx="58.4" cy="394.5" r="2.8" fill="#e5002a"/>
<circle cx="54.7" cy="419.0" r="2.8" fill="#e5002a"/>
<circle cx="54.5" cy="405.5" r="2.8" fill="#e5002a"/>
<circle cx="97.0" cy="425.4" r="2.8" fill="#e5002a"/>
<circle cx="106.5" cy="429.2" r="2.8" fill="#e5002a"/>
<circle cx="220.0" cy="427.5" r="2.8" fill="#e5002a"/>
<circle cx="223.5" cy="429.5" r="2.8" fill="#e5002a"/>
<circle cx="255.0" cy="431.0" r="2.8" fill="#e5002a"/>
<circle cx="259.0" cy="432.5" r="2.8" fill="#e5002a"/>
<circle cx="258.0" cy="438.5" r="2.8" fill="#e5002a"/>
<circle cx="270.0" cy="428.5" r="2.8" fill="#e5002a"/>
<circle cx="275.0" cy="429.0" r="2.8" fill="#e5002a"/>
<path d="M53.6 420.8a2.8 2.8 0 1 0 5.6 0a2.8 2.8 0 1 0 -5.6 0M54.6 421.6a2.8 2.8 0 1 0 5.6 0a2.8 2.8 0 1 0 -5.6 0M55.2 423.6a2.8 2.8 0 1 0 5.6 0a2.8 2.8 0 1 0 -5.6 0M55.6 425.1a2.8 2.8 0 1 0 5.6 0a2.8 2.8 0 1 0 -5.6 0M56.3 426.0a2.8 2.8 0 1 0 5.6 0a2.8 2.8 0 1 0 -5.6 0M57.1 426.1a2.8 2.8 0 1 0 5.6 0a2.8 2.8 0 1 0 -5.6 0M58.3 429.2a2.8 2.8 0 1 0 5.6 0a2.8 2.8 0 1 0 -5.6 0M59.0 428.3a2.8 2.8 0 1 0 5.6 0a2.8 2.8 0 1 0 -5.6 0M60.3 431.5a2.8 2.8 0 1 0 5.6 0a2.8 2.8 0 1 0 -5.6 0M61.2 430.8a2.8 2.8 0 1 0 5.6 0a2.8 2.8 0 1 0 -5.6 0M62.5 430.6a2.8 2.8 0 1 0 5.6 0a2.8 2.8 0 1 0 -5.6 0M63.5 432.0a2.8 2.8 0 1 0 5.6 0a2.8 2.8 0 1 0 -5.6 0M64.1 432.2a2.8 2.8 0 1 0 5.6 0a2.8 2.8 0 1 0 -5.6 0M65.4 435.0a2.8 2.8 0 1 0 5.6 0a2.8 2.8 0 1 0 -5.6 0M66.4 434.9a2.8 2.8 0 1 0 5.6 0a2.8 2.8 0 1 0 -5.6 0M68.1 434.8a2.8 2.8 0 1 0 5.6 0a2.8 2.8 0 1 0 -5.6 0M69.4 434.4a2.8 2.8 0 1 0 5.6 0a2.8 2.8 0 1 0 -5.6 0M70.3 435.4a2.8 2.8 0 1 0 5.6 0a2.8 2.8 0 1 0 -5.6 0M72.1 436.6a2.8 2.8 0 1 0 5.6 0a2.8 2.8 0 1 0 -5.6 0M73.1 437.6a2.8 2.8 0 1 0 5.6 0a2.8 2.8 0 1 0 -5.6 0M74.5 437.3a2.8 2.8 0 1 0 5.6 0a2.8 2.8 0 1 0 -5.6 0M76.1 439.0a2.8 2.8 0 1 0 5.6 0a2.8 2.8 0 1 0 -5.6 0M77.0 439.1a2.8 2.8 0 1 0 5.6 0a2.8 2.8 0 1 0 -5.6 0M78.6 440.5a2.8 2.8 0 1 0 5.6 0a2.8 2.8 0 1 0 -5.6 0M80.1 439.2a2.8 2.8 0 1 0 5.6 0a2.8 2.8 0 1 0 -5.6 0M81.6 439.1a2.8 2.8 0 1 0 5.6 0a2.8 2.8 0 1 0 -5.6 0M82.5 441.5a2.8 2.8 0 1 0 5.6 0a2.8 2.8 0 1 0 -5.6 0M83.6 441.2a2.8 2.8 0 1 0 5.6 0a2.8 2.8 0 1 0 -5.6 0M84.8 442.2a2.8 2.8 0 1 0 5.6 0a2.8 2.8 0 1 0 -5.6 0M86.7 442.0a2.8 2.8 0 1 0 5.6 0a2.8 2.8 0 1 0 -5.6 0M88.2 441.4a2.8 2.8 0 1 0 5.6 0a2.8 2.8 0 1 0 -5.6 0M89.4 442.3a2.8 2.8 0 1 0 5.6 0a2.8 2.8 0 1 0 -5.6 0M90.6 442.0a2.8 2.8 0 1 0 5.6 0a2.8 2.8 0 1 0 -5.6 0M92.1 443.6a2.8 2.8 0 1 0 5.6 0a2.8 2.8 0 1 0 -5.6 0M93.2 442.9a2.8 2.8 0 1 0 5.6 0a2.8 2.8 0 1 0 -5.6 0M94.2 443.1a2.8 2.8 0 1 0 5.6 0a2.8 2.8 0 1 0 -5.6 0M96.0 444.1a2.8 2.8 0 1 0 5.6 0a2.8 2.8 0 1 0 -5.6 0M97.5 442.1a2.8 2.8 0 1 0 5.6 0a2.8 2.8 0 1 0 -5.6 0M98.5 443.3a2.8 2.8 0 1 0 5.6 0a2.8 2.8 0 1 0 -5.6 0M99.5 442.7a2.8 2.8 0 1 0 5.6 0a2.8 2.8 0 1 0 -5.6 0M101.0 441.7a2.8 2.8 0 1 0 5.6 0a2.8 2.8 0 1 0 -5.6 0M102.3 443.7a2.8 2.8 0 1 0 5.6 0a2.8 2.8 0 1 0 -5.6 0M103.7 442.2a2.8 2.8 0 1 0 5.6 0a2.8 2.8 0 1 0 -5.6 0M105.3 444.1a2.8 2.8 0 1 0 5.6 0a2.8 2.8 0 1 0 -5.6 0M106.4 442.9a2.8 2.8 0 1 0 5.6 0a2.8 2.8 0 1 0 -5.6 0M108.1 444.2a2.8 2.8 0 1 0 5.6 0a2.8 2.8 0 1 0 -5.6 0M109.7 444.2a2.8 2.8 0 1 0 5.6 0a2.8 2.8 0 1 0 -5.6 0M110.7 442.9a2.8 2.8 0 1 0 5.6 0a2.8 2.8 0 1 0 -5.6 0M112.1 444.4a2.8 2.8 0 1 0 5.6 0a2.8 2.8 0 1 0 -5.6 0M113.9 442.2a2.8 2.8 0 1 0 5.6 0a2.8 2.8 0 1 0 -5.6 0M114.6 442.5a2.8 2.8 0 1 0 5.6 0a2.8 2.8 0 1 0 -5.6 0M116.0 443.3a2.8 2.8 0 1 0 5.6 0a2.8 2.8 0 1 0 -5.6 0M117.6 442.7a2.8 2.8 0 1 0 5.6 0a2.8 2.8 0 1 0 -5.6 0M118.5 443.2a2.8 2.8 0 1 0 5.6 0a2.8 2.8 0 1 0 -5.6 0M120.1 443.7a2.8 2.8 0 1 0 5.6 0a2.8 2.8 0 1 0 -5.6 0M121.9 444.1a2.8 2.8 0 1 0 5.6 0a2.8 2.8 0 1 0 -5.6 0M122.9 444.0a2.8 2.8 0 1 0 5.6 0a2.8 2.8 0 1 0 -5.6 0M124.3 442.3a2.8 2.8 0 1 0 5.6 0a2.8 2.8 0 1 0 -5.6 0M125.9 444.6a2.8 2.8 0 1 0 5.6 0a2.8 2.8 0 1 0 -5.6 0M127.2 444.7a2.8 2.8 0 1 0 5.6 0a2.8 2.8 0 1 0 -5.6 0M128.1 443.5a2.8 2.8 0 1 0 5.6 0a2.8 2.8 0 1 0 -5.6 0M129.2 444.3a2.8 2.8 0 1 0 5.6 0a2.8 2.8 0 1 0 -5.6 0M130.5 442.6a2.8 2.8 0 1 0 5.6 0a2.8 2.8 0 1 0 -5.6 0M132.0 443.0a2.8 2.8 0 1 0 5.6 0a2.8 2.8 0 1 0 -5.6 0M133.4 442.7a2.8 2.8 0 1 0 5.6 0a2.8 2.8 0 1 0 -5.6 0M134.5 443.0a2.8 2.8 0 1 0 5.6 0a2.8 2.8 0 1 0 -5.6 0M135.9 443.6a2.8 2.8 0 1 0 5.6 0a2.8 2.8 0 1 0 -5.6 0M137.2 445.1a2.8 2.8 0 1 0 5.6 0a2.8 2.8 0 1 0 -5.6 0M139.0 442.9a2.8 2.8 0 1 0 5.6 0a2.8 2.8 0 1 0 -5.6 0M140.0 443.5a2.8 2.8 0 1 0 5.6 0a2.8 2.8 0 1 0 -5.6 0M141.4 442.9a2.8 2.8 0 1 0 5.6 0a2.8 2.8 0 1 0 -5.6 0M143.1 445.5a2.8 2.8 0 1 0 5.6 0a2.8 2.8 0 1 0 -5.6 0M144.2 444.0a2.8 2.8 0 1 0 5.6 0a2.8 2.8 0 1 0 -5.6 0M145.2 442.8a2.8 2.8 0 1 0 5.6 0a2.8 2.8 0 1 0 -5.6 0M146.7 443.3a2.8 2.8 0 1 0 5.6 0a2.8 2.8 0 1 0 -5.6 0M148.5 443.0a2.8 2.8 0 1 0 5.6 0a2.8 2.8 0 1 0 -5.6 0M149.2 445.4a2.8 2.8 0 1 0 5.6 0a2.8 2.8 0 1 0 -5.6 0M150.9 442.9a2.8 2.8 0 1 0 5.6 0a2.8 2.8 0 1 0 -5.6 0M152.2 442.6a2.8 2.8 0 1 0 5.6 0a2.8 2.8 0 1 0 -5.6 0M153.7 445.2a2.8 2.8 0 1 0 5.6 0a2.8 2.8 0 1 0 -5.6 0M155.3 444.2a2.8 2.8 0 1 0 5.6 0a2.8 2.8 0 1 0 -5.6 0M156.3 443.0a2.8 2.8 0 1 0 5.6 0a2.8 2.8 0 1 0 -5.6 0M157.6 444.0a2.8 2.8 0 1 0 5.6 0a2.8 2.8 0 1 0 -5.6 0M159.4 443.8a2.8 2.8 0 1 0 5.6 0a2.8 2.8 0 1 0 -5.6 0M160.6 441.9a2.8 2.8 0 1 0 5.6 0a2.8 2.8 0 1 0 -5.6 0M162.4 444.0a2.8 2.8 0 1 0 5.6 0a2.8 2.8 0 1 0 -5.6 0M163.8 443.3a2.8 2.8 0 1 0 5.6 0a2.8 2.8 0 1 0 -5.6 0M165.1 443.0a2.8 2.8 0 1 0 5.6 0a2.8 2.8 0 1 0 -5.6 0M165.9 442.2a2.8 2.8 0 1 0 5.6 0a2.8 2.8 0 1 0 -5.6 0M167.3 440.6a2.8 2.8 0 1 0 5.6 0a2.8 2.8 0 1 0 -5.6 0M168.4 441.2a2.8 2.8 0 1 0 5.6 0a2.8 2.8 0 1 0 -5.6 0M169.9 442.3a2.8 2.8 0 1 0 5.6 0a2.8 2.8 0 1 0 -5.6 0M171.8 441.5a2.8 2.8 0 1 0 5.6 0a2.8 2.8 0 1 0 -5.6 0M173.0 443.0a2.8 2.8 0 1 0 5.6 0a2.8 2.8 0 1 0 -5.6 0M174.4 441.0a2.8 2.8 0 1 0 5.6 0a2.8 2.8 0 1 0 -5.6 0M175.2 440.6a2.8 2.8 0 1 0 5.6 0a2.8 2.8 0 1 0 -5.6 0M176.5 440.4a2.8 2.8 0 1 0 5.6 0a2.8 2.8 0 1 0 -5.6 0M178.1 442.4a2.8 2.8 0 1 0 5.6 0a2.8 2.8 0 1 0 -5.6 0M179.7 441.1a2.8 2.8 0 1 0 5.6 0a2.8 2.8 0 1 0 -5.6 0M180.8 442.0a2.8 2.8 0 1 0 5.6 0a2.8 2.8 0 1 0 -5.6 0M181.7 441.5a2.8 2.8 0 1 0 5.6 0a2.8 2.8 0 1 0 -5.6 0M183.7 441.8a2.8 2.8 0 1 0 5.6 0a2.8 2.8 0 1 0 -5.6 0M184.9 440.9a2.8 2.8 0 1 0 5.6 0a2.8 2.8 0 1 0 -5.6 0M185.8 441.7a2.8 2.8 0 1 0 5.6 0a2.8 2.8 0 1 0 -5.6 0M187.3 441.7a2.8 2.8 0 1 0 5.6 0a2.8 2.8 0 1 0 -5.6 0M189.1 440.4a2.8 2.8 0 1 0 5.6 0a2.8 2.8 0 1 0 -5.6 0M190.0 442.0a2.8 2.8 0 1 0 5.6 0a2.8 2.8 0 1 0 -5.6 0M191.6 439.6a2.8 2.8 0 1 0 5.6 0a2.8 2.8 0 1 0 -5.6 0M192.5 439.5a2.8 2.8 0 1 0 5.6 0a2.8 2.8 0 1 0 -5.6 0M194.4 441.4a2.8 2.8 0 1 0 5.6 0a2.8 2.8 0 1 0 -5.6 0M195.1 441.4a2.8 2.8 0 1 0 5.6 0a2.8 2.8 0 1 0 -5.6 0M197.1 440.8a2.8 2.8 0 1 0 5.6 0a2.8 2.8 0 1 0 -5.6 0M198.0 440.4a2.8 2.8 0 1 0 5.6 0a2.8 2.8 0 1 0 -5.6 0M199.2 438.6a2.8 2.8 0 1 0 5.6 0a2.8 2.8 0 1 0 -5.6 0M201.2 440.3a2.8 2.8 0 1 0 5.6 0a2.8 2.8 0 1 0 -5.6 0M202.2 441.0a2.8 2.8 0 1 0 5.6 0a2.8 2.8 0 1 0 -5.6 0M203.5 440.6a2.8 2.8 0 1 0 5.6 0a2.8 2.8 0 1 0 -5.6 0M205.2 438.4a2.8 2.8 0 1 0 5.6 0a2.8 2.8 0 1 0 -5.6 0M206.1 438.5a2.8 2.8 0 1 0 5.6 0a2.8 2.8 0 1 0 -5.6 0M207.4 439.2a2.8 2.8 0 1 0 5.6 0a2.8 2.8 0 1 0 -5.6 0M208.8 438.5a2.8 2.8 0 1 0 5.6 0a2.8 2.8 0 1 0 -5.6 0M210.1 439.7a2.8 2.8 0 1 0 5.6 0a2.8 2.8 0 1 0 -5.6 0M211.6 438.2a2.8 2.8 0 1 0 5.6 0a2.8 2.8 0 1 0 -5.6 0M213.2 439.3a2.8 2.8 0 1 0 5.6 0a2.8 2.8 0 1 0 -5.6 0M214.4 439.2a2.8 2.8 0 1 0 5.6 0a2.8 2.8 0 1 0 -5.6 0M215.8 437.8a2.8 2.8 0 1 0 5.6 0a2.8 2.8 0 1 0 -5.6 0M217.2 436.1a2.8 2.8 0 1 0 5.6 0a2.8 2.8 0 1 0 -5.6 0M218.6 436.3a2.8 2.8 0 1 0 5.6 0a2.8 2.8 0 1 0 -5.6 0M219.6 438.0a2.8 2.8 0 1 0 5.6 0a2.8 2.8 0 1 0 -5.6 0M221.1 436.8a2.8 2.8 0 1 0 5.6 0a2.8 2.8 0 1 0 -5.6 0M223.0 436.9a2.8 2.8 0 1 0 5.6 0a2.8 2.8 0 1 0 -5.6 0M224.1 436.6a2.8 2.8 0 1 0 5.6 0a2.8 2.8 0 1 0 -5.6 0M225.6 437.2a2.8 2.8 0 1 0 5.6 0a2.8 2.8 0 1 0 -5.6 0M226.7 436.3a2.8 2.8 0 1 0 5.6 0a2.8 2.8 0 1 0 -5.6 0M228.2 435.2a2.8 2.8 0 1 0 5.6 0a2.8 2.8 0 1 0 -5.6 0M230.0 435.7a2.8 2.8 0 1 0 5.6 0a2.8 2.8 0 1 0 -5.6 0M231.2 436.3a2.8 2.8 0 1 0 5.6 0a2.8 2.8 0 1 0 -5.6 0M232.9 435.3a2.8 2.8 0 1 0 5.6 0a2.8 2.8 0 1 0 -5.6 0M234.0 435.4a2.8 2.8 0 1 0 5.6 0a2.8 2.8 0 1 0 -5.6 0M235.3 435.9a2.8 2.8 0 1 0 5.6 0a2.8 2.8 0 1 0 -5.6 0M236.6 435.3a2.8 2.8 0 1 0 5.6 0a2.8 2.8 0 1 0 -5.6 0M238.0 436.5a2.8 2.8 0 1 0 5.6 0a2.8 2.8 0 1 0 -5.6 0M239.5 436.2a2.8 2.8 0 1 0 5.6 0a2.8 2.8 0 1 0 -5.6 0M241.1 434.3a2.8 2.8 0 1 0 5.6 0a2.8 2.8 0 1 0 -5.6 0M242.1 436.3a2.8 2.8 0 1 0 5.6 0a2.8 2.8 0 1 0 -5.6 0M243.7 433.8a2.8 2.8 0 1 0 5.6 0a2.8 2.8 0 1 0 -5.6 0M244.5 434.6a2.8 2.8 0 1 0 5.6 0a2.8 2.8 0 1 0 -5.6 0M245.8 433.9a2.8 2.8 0 1 0 5.6 0a2.8 2.8 0 1 0 -5.6 0M247.1 435.2a2.8 2.8 0 1 0 5.6 0a2.8 2.8 0 1 0 -5.6 0M249.1 435.8a2.8 2.8 0 1 0 5.6 0a2.8 2.8 0 1 0 -5.6 0M249.9 435.1a2.8 2.8 0 1 0 5.6 0a2.8 2.8 0 1 0 -5.6 0M251.6 433.5a2.8 2.8 0 1 0 5.6 0a2.8 2.8 0 1 0 -5.6 0M253.1 436.1a2.8 2.8 0 1 0 5.6 0a2.8 2.8 0 1 0 -5.6 0M253.9 436.2a2.8 2.8 0 1 0 5.6 0a2.8 2.8 0 1 0 -5.6 0M255.3 434.9a2.8 2.8 0 1 0 5.6 0a2.8 2.8 0 1 0 -5.6 0M257.1 436.0a2.8 2.8 0 1 0 5.6 0a2.8 2.8 0 1 0 -5.6 0M257.7 434.9a2.8 2.8 0 1 0 5.6 0a2.8 2.8 0 1 0 -5.6 0M259.3 434.7a2.8 2.8 0 1 0 5.6 0a2.8 2.8 0 1 0 -5.6 0M260.4 434.8a2.8 2.8 0 1 0 5.6 0a2.8 2.8 0 1 0 -5.6 0M262.1 434.0a2.8 2.8 0 1 0 5.6 0a2.8 2.8 0 1 0 -5.6 0M263.2 435.3a2.8 2.8 0 1 0 5.6 0a2.8 2.8 0 1 0 -5.6 0M264.2 435.1a2.8 2.8 0 1 0 5.6 0a2.8 2.8 0 1 0 -5.6 0M266.0 435.7a2.8 2.8 0 1 0 5.6 0a2.8 2.8 0 1 0 -5.6 0M266.9 437.2a2.8 2.8 0 1 0 5.6 0a2.8 2.8 0 1 0 -5.6 0M268.9 437.3a2.8 2.8 0 1 0 5.6 0a2.8 2.8 0 1 0 -5.6 0M269.7 435.3a2.8 2.8 0 1 0 5.6 0a2.8 2.8 0 1 0 -5.6 0M271.0 436.9a2.8 2.8 0 1 0 5.6 0a2.8 2.8 0 1 0 -5.6 0M272.6 435.0a2.8 2.8 0 1 0 5.6 0a2.8 2.8 0 1 0 -5.6 0M274.0 437.5a2.8 2.8 0 1 0 5.6 0a2.8 2.8 0 1 0 -5.6 0M275.7 435.6a2.8 2.8 0 1 0 5.6 0a2.8 2.8 0 1 0 -5.6 0M276.6 437.7a2.8 2.8 0 1 0 5.6 0a2.8 2.8 0 1 0 -5.6 0M278.2 436.5a2.8 2.8 0 1 0 5.6 0a2.8 2.8 0 1 0 -5.6 0" fill="#199fe0"/>
<path d="M55.0 424.9a2.8 2.8 0 1 0 5.6 0a2.8 2.8 0 1 0 -5.6 0M55.6 425.6a2.8 2.8 0 1 0 5.6 0a2.8 2.8 0 1 0 -5.6 0M56.2 425.8a2.8 2.8 0 1 0 5.6 0a2.8 2.8 0 1 0 -5.6 0M57.6 426.9a2.8 2.8 0 1 0 5.6 0a2.8 2.8 0 1 0 -5.6 0M58.0 428.6a2.8 2.8 0 1 0 5.6 0a2.8 2.8 0 1 0 -5.6 0M58.5 429.8a2.8 2.8 0 1 0 5.6 0a2.8 2.8 0 1 0 -5.6 0M59.0 431.7a2.8 2.8 0 1 0 5.6 0a2.8 2.8 0 1 0 -5.6 0M59.9 431.3a2.8 2.8 0 1 0 5.6 0a2.8 2.8 0 1 0 -5.6 0M60.8 432.3a2.8 2.8 0 1 0 5.6 0a2.8 2.8 0 1 0 -5.6 0M62.1 434.4a2.8 2.8 0 1 0 5.6 0a2.8 2.8 0 1 0 -5.6 0M63.1 433.7a2.8 2.8 0 1 0 5.6 0a2.8 2.8 0 1 0 -5.6 0M64.2 436.1a2.8 2.8 0 1 0 5.6 0a2.8 2.8 0 1 0 -5.6 0M65.3 435.9a2.8 2.8 0 1 0 5.6 0a2.8 2.8 0 1 0 -5.6 0M66.7 436.6a2.8 2.8 0 1 0 5.6 0a2.8 2.8 0 1 0 -5.6 0M67.9 437.3a2.8 2.8 0 1 0 5.6 0a2.8 2.8 0 1 0 -5.6 0M69.2 437.8a2.8 2.8 0 1 0 5.6 0a2.8 2.8 0 1 0 -5.6 0M70.9 438.0a2.8 2.8 0 1 0 5.6 0a2.8 2.8 0 1 0 -5.6 0M71.6 437.3a2.8 2.8 0 1 0 5.6 0a2.8 2.8 0 1 0 -5.6 0M73.6 438.5a2.8 2.8 0 1 0 5.6 0a2.8 2.8 0 1 0 -5.6 0M74.3 439.7a2.8 2.8 0 1 0 5.6 0a2.8 2.8 0 1 0 -5.6 0M75.9 439.6a2.8 2.8 0 1 0 5.6 0a2.8 2.8 0 1 0 -5.6 0M77.2 439.5a2.8 2.8 0 1 0 5.6 0a2.8 2.8 0 1 0 -5.6 0" fill="#199fe0"/>
<circle cx="54.5" cy="403.0" r="2.8" fill="#199fe0"/>
<circle cx="55.6" cy="414.4" r="2.8" fill="#199fe0"/>
<circle cx="111.0" cy="450.2" r="2.8" fill="#199fe0"/>
<circle cx="114.2" cy="428.5" r="2.8" fill="#199fe0"/>
<circle cx="183.7" cy="446.4" r="2.8" fill="#199fe0"/>
<circle cx="257.0" cy="442.0" r="2.8" fill="#199fe0"/>
</g>
<g clip-path="url(#clipf)">
<path d="M307.9 417.4a2.8 2.8 0 1 0 5.6 0a2.8 2.8 0 1 0 -5.6 0M308.9 418.5a2.8 2.8 0 1 0 5.6 0a2.8 2.8 0 1 0 -5.6 0M309.2 420.1a2.8 2.8 0 1 0 5.6 0a2.8 2.8 0 1 0 -5.6 0M309.6 421.3a2.8 2.8 0 1 0 5.6 0a2.8 2.8 0 1 0 -5.6 0M310.6 423.4a2.8 2.8 0 1 0 5.6 0a2.8 2.8 0 1 0 -5.6 0M310.9 423.5a2.8 2.8 0 1 0 5.6 0a2.8 2.8 0 1 0 -5.6 0M311.6 425.9a2.8 2.8 0 1 0 5.6 0a2.8 2.8 0 1 0 -5.6 0M312.8 425.0a2.8 2.8 0 1 0 5.6 0a2.8 2.8 0 1 0 -5.6 0M313.8 428.5a2.8 2.8 0 1 0 5.6 0a2.8 2.8 0 1 0 -5.6 0M314.3 428.6a2.8 2.8 0 1 0 5.6 0a2.8 2.8 0 1 0 -5.6 0M314.6 428.2a2.8 2.8 0 1 0 5.6 0a2.8 2.8 0 1 0 -5.6 0M315.6 429.4a2.8 2.8 0 1 0 5.6 0a2.8 2.8 0 1 0 -5.6 0M317.2 430.1a2.8 2.8 0 1 0 5.6 0a2.8 2.8 0 1 0 -5.6 0M318.8 430.9a2.8 2.8 0 1 0 5.6 0a2.8 2.8 0 1 0 -5.6 0M320.5 432.0a2.8 2.8 0 1 0 5.6 0a2.8 2.8 0 1 0 -5.6 0M321.9 431.5a2.8 2.8 0 1 0 5.6 0a2.8 2.8 0 1 0 -5.6 0M323.2 431.7a2.8 2.8 0 1 0 5.6 0a2.8 2.8 0 1 0 -5.6 0M324.5 430.8a2.8 2.8 0 1 0 5.6 0a2.8 2.8 0 1 0 -5.6 0M326.3 432.7a2.8 2.8 0 1 0 5.6 0a2.8 2.8 0 1 0 -5.6 0M327.5 432.0a2.8 2.8 0 1 0 5.6 0a2.8 2.8 0 1 0 -5.6 0M328.3 430.3a2.8 2.8 0 1 0 5.6 0a2.8 2.8 0 1 0 -5.6 0M329.4 429.4a2.8 2.8 0 1 0 5.6 0a2.8 2.8 0 1 0 -5.6 0M331.0 429.7a2.8 2.8 0 1 0 5.6 0a2.8 2.8 0 1 0 -5.6 0M332.3 429.2a2.8 2.8 0 1 0 5.6 0a2.8 2.8 0 1 0 -5.6 0M333.6 429.9a2.8 2.8 0 1 0 5.6 0a2.8 2.8 0 1 0 -5.6 0M334.0 427.4a2.8 2.8 0 1 0 5.6 0a2.8 2.8 0 1 0 -5.6 0M335.9 427.3a2.8 2.8 0 1 0 5.6 0a2.8 2.8 0 1 0 -5.6 0M337.1 426.2a2.8 2.8 0 1 0 5.6 0a2.8 2.8 0 1 0 -5.6 0M337.5 427.7a2.8 2.8 0 1 0 5.6 0a2.8 2.8 0 1 0 -5.6 0M339.3 427.6a2.8 2.8 0 1 0 5.6 0a2.8 2.8 0 1 0 -5.6 0M339.9 428.6a2.8 2.8 0 1 0 5.6 0a2.8 2.8 0 1 0 -5.6 0M342.0 429.7a2.8 2.8 0 1 0 5.6 0a2.8 2.8 0 1 0 -5.6 0M342.7 428.3a2.8 2.8 0 1 0 5.6 0a2.8 2.8 0 1 0 -5.6 0M344.1 427.9a2.8 2.8 0 1 0 5.6 0a2.8 2.8 0 1 0 -5.6 0M346.0 428.2a2.8 2.8 0 1 0 5.6 0a2.8 2.8 0 1 0 -5.6 0M347.2 428.9a2.8 2.8 0 1 0 5.6 0a2.8 2.8 0 1 0 -5.6 0M348.6 429.3a2.8 2.8 0 1 0 5.6 0a2.8 2.8 0 1 0 -5.6 0M350.2 428.7a2.8 2.8 0 1 0 5.6 0a2.8 2.8 0 1 0 -5.6 0M351.9 427.8a2.8 2.8 0 1 0 5.6 0a2.8 2.8 0 1 0 -5.6 0M353.4 427.0a2.8 2.8 0 1 0 5.6 0a2.8 2.8 0 1 0 -5.6 0M355.4 428.0a2.8 2.8 0 1 0 5.6 0a2.8 2.8 0 1 0 -5.6 0M356.2 427.8a2.8 2.8 0 1 0 5.6 0a2.8 2.8 0 1 0 -5.6 0M357.6 426.1a2.8 2.8 0 1 0 5.6 0a2.8 2.8 0 1 0 -5.6 0M359.5 426.4a2.8 2.8 0 1 0 5.6 0a2.8 2.8 0 1 0 -5.6 0M360.3 426.8a2.8 2.8 0 1 0 5.6 0a2.8 2.8 0 1 0 -5.6 0M361.8 424.4a2.8 2.8 0 1 0 5.6 0a2.8 2.8 0 1 0 -5.6 0M363.7 424.1a2.8 2.8 0 1 0 5.6 0a2.8 2.8 0 1 0 -5.6 0M364.7 422.9a2.8 2.8 0 1 0 5.6 0a2.8 2.8 0 1 0 -5.6 0M365.9 424.2a2.8 2.8 0 1 0 5.6 0a2.8 2.8 0 1 0 -5.6 0M367.4 424.2a2.8 2.8 0 1 0 5.6 0a2.8 2.8 0 1 0 -5.6 0M368.8 423.8a2.8 2.8 0 1 0 5.6 0a2.8 2.8 0 1 0 -5.6 0M370.6 423.8a2.8 2.8 0 1 0 5.6 0a2.8 2.8 0 1 0 -5.6 0M371.6 424.7a2.8 2.8 0 1 0 5.6 0a2.8 2.8 0 1 0 -5.6 0M372.6 422.8a2.8 2.8 0 1 0 5.6 0a2.8 2.8 0 1 0 -5.6 0M374.5 424.5a2.8 2.8 0 1 0 5.6 0a2.8 2.8 0 1 0 -5.6 0M375.4 422.9a2.8 2.8 0 1 0 5.6 0a2.8 2.8 0 1 0 -5.6 0M377.1 424.8a2.8 2.8 0 1 0 5.6 0a2.8 2.8 0 1 0 -5.6 0M378.0 424.7a2.8 2.8 0 1 0 5.6 0a2.8 2.8 0 1 0 -5.6 0M379.9 423.8a2.8 2.8 0 1 0 5.6 0a2.8 2.8 0 1 0 -5.6 0M380.8 422.5a2.8 2.8 0 1 0 5.6 0a2.8 2.8 0 1 0 -5.6 0M381.8 424.7a2.8 2.8 0 1 0 5.6 0a2.8 2.8 0 1 0 -5.6 0M383.3 423.9a2.8 2.8 0 1 0 5.6 0a2.8 2.8 0 1 0 -5.6 0M384.7 424.2a2.8 2.8 0 1 0 5.6 0a2.8 2.8 0 1 0 -5.6 0M386.3 422.8a2.8 2.8 0 1 0 5.6 0a2.8 2.8 0 1 0 -5.6 0M387.3 423.9a2.8 2.8 0 1 0 5.6 0a2.8 2.8 0 1 0 -5.6 0M388.5 422.5a2.8 2.8 0 1 0 5.6 0a2.8 2.8 0 1 0 -5.6 0M390.2 424.1a2.8 2.8 0 1 0 5.6 0a2.8 2.8 0 1 0 -5.6 0M391.6 422.7a2.8 2.8 0 1 0 5.6 0a2.8 2.8 0 1 0 -5.6 0M393.1 422.6a2.8 2.8 0 1 0 5.6 0a2.8 2.8 0 1 0 -5.6 0M393.7 422.8a2.8 2.8 0 1 0 5.6 0a2.8 2.8 0 1 0 -5.6 0M395.4 422.3a2.8 2.8 0 1 0 5.6 0a2.8 2.8 0 1 0 -5.6 0M396.5 423.2a2.8 2.8 0 1 0 5.6 0a2.8 2.8 0 1 0 -5.6 0M398.1 422.6a2.8 2.8 0 1 0 5.6 0a2.8 2.8 0 1 0 -5.6 0M399.2 424.6a2.8 2.8 0 1 0 5.6 0a2.8 2.8 0 1 0 -5.6 0M401.0 424.1a2.8 2.8 0 1 0 5.6 0a2.8 2.8 0 1 0 -5.6 0M402.1 424.0a2.8 2.8 0 1 0 5.6 0a2.8 2.8 0 1 0 -5.6 0M403.0 422.6a2.8 2.8 0 1 0 5.6 0a2.8 2.8 0 1 0 -5.6 0M404.2 424.9a2.8 2.8 0 1 0 5.6 0a2.8 2.8 0 1 0 -5.6 0M406.1 425.1a2.8 2.8 0 1 0 5.6 0a2.8 2.8 0 1 0 -5.6 0M406.8 424.4a2.8 2.8 0 1 0 5.6 0a2.8 2.8 0 1 0 -5.6 0M408.5 424.7a2.8 2.8 0 1 0 5.6 0a2.8 2.8 0 1 0 -5.6 0M409.8 425.4a2.8 2.8 0 1 0 5.6 0a2.8 2.8 0 1 0 -5.6 0M411.0 424.3a2.8 2.8 0 1 0 5.6 0a2.8 2.8 0 1 0 -5.6 0M412.8 425.3a2.8 2.8 0 1 0 5.6 0a2.8 2.8 0 1 0 -5.6 0M414.2 424.8a2.8 2.8 0 1 0 5.6 0a2.8 2.8 0 1 0 -5.6 0M415.6 425.5a2.8 2.8 0 1 0 5.6 0a2.8 2.8 0 1 0 -5.6 0M416.6 424.9a2.8 2.8 0 1 0 5.6 0a2.8 2.8 0 1 0 -5.6 0M418.4 425.5a2.8 2.8 0 1 0 5.6 0a2.8 2.8 0 1 0 -5.6 0M419.4 425.3a2.8 2.8 0 1 0 5.6 0a2.8 2.8 0 1 0 -5.6 0M421.1 424.8a2.8 2.8 0 1 0 5.6 0a2.8 2.8 0 1 0 -5.6 0M422.3 424.4a2.8 2.8 0 1 0 5.6 0a2.8 2.8 0 1 0 -5.6 0M423.7 424.8a2.8 2.8 0 1 0 5.6 0a2.8 2.8 0 1 0 -5.6 0M424.7 424.7a2.8 2.8 0 1 0 5.6 0a2.8 2.8 0 1 0 -5.6 0M426.8 425.1a2.8 2.8 0 1 0 5.6 0a2.8 2.8 0 1 0 -5.6 0M428.0 423.6a2.8 2.8 0 1 0 5.6 0a2.8 2.8 0 1 0 -5.6 0M429.4 424.0a2.8 2.8 0 1 0 5.6 0a2.8 2.8 0 1 0 -5.6 0M430.6 424.4a2.8 2.8 0 1 0 5.6 0a2.8 2.8 0 1 0 -5.6 0M431.7 424.0a2.8 2.8 0 1 0 5.6 0a2.8 2.8 0 1 0 -5.6 0M433.0 423.4a2.8 2.8 0 1 0 5.6 0a2.8 2.8 0 1 0 -5.6 0M434.8 422.3a2.8 2.8 0 1 0 5.6 0a2.8 2.8 0 1 0 -5.6 0M436.4 422.8a2.8 2.8 0 1 0 5.6 0a2.8 2.8 0 1 0 -5.6 0M437.7 423.7a2.8 2.8 0 1 0 5.6 0a2.8 2.8 0 1 0 -5.6 0M438.8 421.1a2.8 2.8 0 1 0 5.6 0a2.8 2.8 0 1 0 -5.6 0M440.2 422.6a2.8 2.8 0 1 0 5.6 0a2.8 2.8 0 1 0 -5.6 0M441.5 421.0a2.8 2.8 0 1 0 5.6 0a2.8 2.8 0 1 0 -5.6 0M443.4 422.0a2.8 2.8 0 1 0 5.6 0a2.8 2.8 0 1 0 -5.6 0M444.5 422.4a2.8 2.8 0 1 0 5.6 0a2.8 2.8 0 1 0 -5.6 0M445.7 421.6a2.8 2.8 0 1 0 5.6 0a2.8 2.8 0 1 0 -5.6 0M447.0 420.8a2.8 2.8 0 1 0 5.6 0a2.8 2.8 0 1 0 -5.6 0M448.9 421.8a2.8 2.8 0 1 0 5.6 0a2.8 2.8 0 1 0 -5.6 0M450.3 420.2a2.8 2.8 0 1 0 5.6 0a2.8 2.8 0 1 0 -5.6 0M451.5 419.8a2.8 2.8 0 1 0 5.6 0a2.8 2.8 0 1 0 -5.6 0M452.5 420.0a2.8 2.8 0 1 0 5.6 0a2.8 2.8 0 1 0 -5.6 0M454.5 420.9a2.8 2.8 0 1 0 5.6 0a2.8 2.8 0 1 0 -5.6 0M455.9 421.2a2.8 2.8 0 1 0 5.6 0a2.8 2.8 0 1 0 -5.6 0M457.0 419.1a2.8 2.8 0 1 0 5.6 0a2.8 2.8 0 1 0 -5.6 0M458.6 419.4a2.8 2.8 0 1 0 5.6 0a2.8 2.8 0 1 0 -5.6 0M459.9 419.8a2.8 2.8 0 1 0 5.6 0a2.8 2.8 0 1 0 -5.6 0M461.6 420.0a2.8 2.8 0 1 0 5.6 0a2.8 2.8 0 1 0 -5.6 0M462.9 420.9a2.8 2.8 0 1 0 5.6 0a2.8 2.8 0 1 0 -5.6 0M464.8 419.7a2.8 2.8 0 1 0 5.6 0a2.8 2.8 0 1 0 -5.6 0M465.6 418.5a2.8 2.8 0 1 0 5.6 0a2.8 2.8 0 1 0 -5.6 0M467.7 418.4a2.8 2.8 0 1 0 5.6 0a2.8 2.8 0 1 0 -5.6 0M469.0 419.6a2.8 2.8 0 1 0 5.6 0a2.8 2.8 0 1 0 -5.6 0M470.1 420.0a2.8 2.8 0 1 0 5.6 0a2.8 2.8 0 1 0 -5.6 0M471.4 418.2a2.8 2.8 0 1 0 5.6 0a2.8 2.8 0 1 0 -5.6 0M473.2 419.0a2.8 2.8 0 1 0 5.6 0a2.8 2.8 0 1 0 -5.6 0" fill="#262626"/>
<circle cx="309.0" cy="410.0" r="2.8" fill="#262626"/>
<circle cx="364.5" cy="417.7" r="2.8" fill="#262626"/>
<circle cx="410.4" cy="415.2" r="2.8" fill="#262626"/>
<circle cx="336.0" cy="425.5" r="2.8" fill="#262626"/>
<circle cx="338.5" cy="423.5" r="2.8" fill="#262626"/>
<circle cx="341.0" cy="422.8" r="2.8" fill="#262626"/>
<circle cx="343.5" cy="424.5" r="2.8" fill="#262626"/>
<path d="M308.0 430.6a2.8 2.8 0 1 0 5.6 0a2.8 2.8 0 1 0 -5.6 0M308.8 432.3a2.8 2.8 0 1 0 5.6 0a2.8 2.8 0 1 0 -5.6 0M308.9 431.7a2.8 2.8 0 1 0 5.6 0a2.8 2.8 0 1 0 -5.6 0M309.4 432.9a2.8 2.8 0 1 0 5.6 0a2.8 2.8 0 1 0 -5.6 0M310.4 433.9a2.8 2.8 0 1 0 5.6 0a2.8 2.8 0 1 0 -5.6 0M311.6 434.6a2.8 2.8 0 1 0 5.6 0a2.8 2.8 0 1 0 -5.6 0M312.8 435.8a2.8 2.8 0 1 0 5.6 0a2.8 2.8 0 1 0 -5.6 0M314.7 436.8a2.8 2.8 0 1 0 5.6 0a2.8 2.8 0 1 0 -5.6 0M315.4 436.3a2.8 2.8 0 1 0 5.6 0a2.8 2.8 0 1 0 -5.6 0M316.9 438.6a2.8 2.8 0 1 0 5.6 0a2.8 2.8 0 1 0 -5.6 0M318.9 438.4a2.8 2.8 0 1 0 5.6 0a2.8 2.8 0 1 0 -5.6 0M320.3 438.3a2.8 2.8 0 1 0 5.6 0a2.8 2.8 0 1 0 -5.6 0M321.8 438.4a2.8 2.8 0 1 0 5.6 0a2.8 2.8 0 1 0 -5.6 0M322.7 438.6a2.8 2.8 0 1 0 5.6 0a2.8 2.8 0 1 0 -5.6 0M324.3 438.3a2.8 2.8 0 1 0 5.6 0a2.8 2.8 0 1 0 -5.6 0M325.8 437.4a2.8 2.8 0 1 0 5.6 0a2.8 2.8 0 1 0 -5.6 0M327.1 437.4a2.8 2.8 0 1 0 5.6 0a2.8 2.8 0 1 0 -5.6 0M328.4 436.5a2.8 2.8 0 1 0 5.6 0a2.8 2.8 0 1 0 -5.6 0M330.1 438.6a2.8 2.8 0 1 0 5.6 0a2.8 2.8 0 1 0 -5.6 0M331.5 438.3a2.8 2.8 0 1 0 5.6 0a2.8 2.8 0 1 0 -5.6 0M332.4 438.5a2.8 2.8 0 1 0 5.6 0a2.8 2.8 0 1 0 -5.6 0M333.4 438.3a2.8 2.8 0 1 0 5.6 0a2.8 2.8 0 1 0 -5.6 0M335.0 436.9a2.8 2.8 0 1 0 5.6 0a2.8 2.8 0 1 0 -5.6 0M336.1 437.9a2.8 2.8 0 1 0 5.6 0a2.8 2.8 0 1 0 -5.6 0M337.4 437.8a2.8 2.8 0 1 0 5.6 0a2.8 2.8 0 1 0 -5.6 0M339.0 437.6a2.8 2.8 0 1 0 5.6 0a2.8 2.8 0 1 0 -5.6 0M339.9 438.0a2.8 2.8 0 1 0 5.6 0a2.8 2.8 0 1 0 -5.6 0M341.3 436.8a2.8 2.8 0 1 0 5.6 0a2.8 2.8 0 1 0 -5.6 0M342.6 436.8a2.8 2.8 0 1 0 5.6 0a2.8 2.8 0 1 0 -5.6 0M343.9 437.3a2.8 2.8 0 1 0 5.6 0a2.8 2.8 0 1 0 -5.6 0M345.9 436.1a2.8 2.8 0 1 0 5.6 0a2.8 2.8 0 1 0 -5.6 0M347.0 437.4a2.8 2.8 0 1 0 5.6 0a2.8 2.8 0 1 0 -5.6 0M347.8 434.6a2.8 2.8 0 1 0 5.6 0a2.8 2.8 0 1 0 -5.6 0M349.8 436.3a2.8 2.8 0 1 0 5.6 0a2.8 2.8 0 1 0 -5.6 0M351.0 433.9a2.8 2.8 0 1 0 5.6 0a2.8 2.8 0 1 0 -5.6 0M352.1 435.6a2.8 2.8 0 1 0 5.6 0a2.8 2.8 0 1 0 -5.6 0M353.9 435.1a2.8 2.8 0 1 0 5.6 0a2.8 2.8 0 1 0 -5.6 0M354.7 435.0a2.8 2.8 0 1 0 5.6 0a2.8 2.8 0 1 0 -5.6 0M356.2 434.4a2.8 2.8 0 1 0 5.6 0a2.8 2.8 0 1 0 -5.6 0M357.3 434.9a2.8 2.8 0 1 0 5.6 0a2.8 2.8 0 1 0 -5.6 0M359.1 433.8a2.8 2.8 0 1 0 5.6 0a2.8 2.8 0 1 0 -5.6 0M360.1 433.3a2.8 2.8 0 1 0 5.6 0a2.8 2.8 0 1 0 -5.6 0M361.8 432.9a2.8 2.8 0 1 0 5.6 0a2.8 2.8 0 1 0 -5.6 0M362.9 433.1a2.8 2.8 0 1 0 5.6 0a2.8 2.8 0 1 0 -5.6 0M364.3 431.5a2.8 2.8 0 1 0 5.6 0a2.8 2.8 0 1 0 -5.6 0M365.5 432.4a2.8 2.8 0 1 0 5.6 0a2.8 2.8 0 1 0 -5.6 0M366.8 430.8a2.8 2.8 0 1 0 5.6 0a2.8 2.8 0 1 0 -5.6 0M368.1 431.8a2.8 2.8 0 1 0 5.6 0a2.8 2.8 0 1 0 -5.6 0M369.9 431.2a2.8 2.8 0 1 0 5.6 0a2.8 2.8 0 1 0 -5.6 0M370.8 430.6a2.8 2.8 0 1 0 5.6 0a2.8 2.8 0 1 0 -5.6 0M372.4 429.5a2.8 2.8 0 1 0 5.6 0a2.8 2.8 0 1 0 -5.6 0M373.5 432.2a2.8 2.8 0 1 0 5.6 0a2.8 2.8 0 1 0 -5.6 0M375.0 430.0a2.8 2.8 0 1 0 5.6 0a2.8 2.8 0 1 0 -5.6 0M376.4 430.8a2.8 2.8 0 1 0 5.6 0a2.8 2.8 0 1 0 -5.6 0M377.6 430.4a2.8 2.8 0 1 0 5.6 0a2.8 2.8 0 1 0 -5.6 0M379.2 431.4a2.8 2.8 0 1 0 5.6 0a2.8 2.8 0 1 0 -5.6 0M380.3 429.8a2.8 2.8 0 1 0 5.6 0a2.8 2.8 0 1 0 -5.6 0M382.1 431.6a2.8 2.8 0 1 0 5.6 0a2.8 2.8 0 1 0 -5.6 0M383.4 430.1a2.8 2.8 0 1 0 5.6 0a2.8 2.8 0 1 0 -5.6 0M384.9 429.5a2.8 2.8 0 1 0 5.6 0a2.8 2.8 0 1 0 -5.6 0M385.8 430.0a2.8 2.8 0 1 0 5.6 0a2.8 2.8 0 1 0 -5.6 0M387.8 430.7a2.8 2.8 0 1 0 5.6 0a2.8 2.8 0 1 0 -5.6 0M388.6 430.4a2.8 2.8 0 1 0 5.6 0a2.8 2.8 0 1 0 -5.6 0M390.5 429.1a2.8 2.8 0 1 0 5.6 0a2.8 2.8 0 1 0 -5.6 0M391.6 429.3a2.8 2.8 0 1 0 5.6 0a2.8 2.8 0 1 0 -5.6 0M392.7 429.1a2.8 2.8 0 1 0 5.6 0a2.8 2.8 0 1 0 -5.6 0M394.0 429.2a2.8 2.8 0 1 0 5.6 0a2.8 2.8 0 1 0 -5.6 0M395.3 429.3a2.8 2.8 0 1 0 5.6 0a2.8 2.8 0 1 0 -5.6 0M396.7 430.3a2.8 2.8 0 1 0 5.6 0a2.8 2.8 0 1 0 -5.6 0M398.4 428.0a2.8 2.8 0 1 0 5.6 0a2.8 2.8 0 1 0 -5.6 0M399.9 428.5a2.8 2.8 0 1 0 5.6 0a2.8 2.8 0 1 0 -5.6 0M401.0 429.6a2.8 2.8 0 1 0 5.6 0a2.8 2.8 0 1 0 -5.6 0M402.3 428.7a2.8 2.8 0 1 0 5.6 0a2.8 2.8 0 1 0 -5.6 0M403.7 428.2a2.8 2.8 0 1 0 5.6 0a2.8 2.8 0 1 0 -5.6 0M405.4 428.1a2.8 2.8 0 1 0 5.6 0a2.8 2.8 0 1 0 -5.6 0M406.7 428.4a2.8 2.8 0 1 0 5.6 0a2.8 2.8 0 1 0 -5.6 0M407.7 428.8a2.8 2.8 0 1 0 5.6 0a2.8 2.8 0 1 0 -5.6 0M408.8 428.0a2.8 2.8 0 1 0 5.6 0a2.8 2.8 0 1 0 -5.6 0M410.4 428.9a2.8 2.8 0 1 0 5.6 0a2.8 2.8 0 1 0 -5.6 0M412.1 430.6a2.8 2.8 0 1 0 5.6 0a2.8 2.8 0 1 0 -5.6 0M412.7 429.3a2.8 2.8 0 1 0 5.6 0a2.8 2.8 0 1 0 -5.6 0M414.1 430.1a2.8 2.8 0 1 0 5.6 0a2.8 2.8 0 1 0 -5.6 0M415.6 430.4a2.8 2.8 0 1 0 5.6 0a2.8 2.8 0 1 0 -5.6 0M417.0 428.1a2.8 2.8 0 1 0 5.6 0a2.8 2.8 0 1 0 -5.6 0M417.9 428.5a2.8 2.8 0 1 0 5.6 0a2.8 2.8 0 1 0 -5.6 0M419.9 428.2a2.8 2.8 0 1 0 5.6 0a2.8 2.8 0 1 0 -5.6 0M420.9 428.9a2.8 2.8 0 1 0 5.6 0a2.8 2.8 0 1 0 -5.6 0M422.1 430.2a2.8 2.8 0 1 0 5.6 0a2.8 2.8 0 1 0 -5.6 0M423.2 429.7a2.8 2.8 0 1 0 5.6 0a2.8 2.8 0 1 0 -5.6 0M424.9 430.1a2.8 2.8 0 1 0 5.6 0a2.8 2.8 0 1 0 -5.6 0M426.0 429.7a2.8 2.8 0 1 0 5.6 0a2.8 2.8 0 1 0 -5.6 0M427.2 428.4a2.8 2.8 0 1 0 5.6 0a2.8 2.8 0 1 0 -5.6 0M428.7 429.0a2.8 2.8 0 1 0 5.6 0a2.8 2.8 0 1 0 -5.6 0M430.2 426.5a2.8 2.8 0 1 0 5.6 0a2.8 2.8 0 1 0 -5.6 0M430.8 427.5a2.8 2.8 0 1 0 5.6 0a2.8 2.8 0 1 0 -5.6 0M432.6 427.2a2.8 2.8 0 1 0 5.6 0a2.8 2.8 0 1 0 -5.6 0M433.5 428.2a2.8 2.8 0 1 0 5.6 0a2.8 2.8 0 1 0 -5.6 0M434.8 425.3a2.8 2.8 0 1 0 5.6 0a2.8 2.8 0 1 0 -5.6 0M435.8 424.9a2.8 2.8 0 1 0 5.6 0a2.8 2.8 0 1 0 -5.6 0M437.7 425.1a2.8 2.8 0 1 0 5.6 0a2.8 2.8 0 1 0 -5.6 0M439.0 427.3a2.8 2.8 0 1 0 5.6 0a2.8 2.8 0 1 0 -5.6 0M440.6 427.0a2.8 2.8 0 1 0 5.6 0a2.8 2.8 0 1 0 -5.6 0M441.5 426.4a2.8 2.8 0 1 0 5.6 0a2.8 2.8 0 1 0 -5.6 0M443.1 426.6a2.8 2.8 0 1 0 5.6 0a2.8 2.8 0 1 0 -5.6 0M444.0 426.7a2.8 2.8 0 1 0 5.6 0a2.8 2.8 0 1 0 -5.6 0M445.2 425.3a2.8 2.8 0 1 0 5.6 0a2.8 2.8 0 1 0 -5.6 0M447.3 425.7a2.8 2.8 0 1 0 5.6 0a2.8 2.8 0 1 0 -5.6 0M448.0 426.6a2.8 2.8 0 1 0 5.6 0a2.8 2.8 0 1 0 -5.6 0M449.5 424.1a2.8 2.8 0 1 0 5.6 0a2.8 2.8 0 1 0 -5.6 0M450.5 424.8a2.8 2.8 0 1 0 5.6 0a2.8 2.8 0 1 0 -5.6 0M452.1 426.8a2.8 2.8 0 1 0 5.6 0a2.8 2.8 0 1 0 -5.6 0M453.4 426.7a2.8 2.8 0 1 0 5.6 0a2.8 2.8 0 1 0 -5.6 0M455.2 425.5a2.8 2.8 0 1 0 5.6 0a2.8 2.8 0 1 0 -5.6 0M456.7 426.7a2.8 2.8 0 1 0 5.6 0a2.8 2.8 0 1 0 -5.6 0M457.6 425.3a2.8 2.8 0 1 0 5.6 0a2.8 2.8 0 1 0 -5.6 0M459.0 427.4a2.8 2.8 0 1 0 5.6 0a2.8 2.8 0 1 0 -5.6 0M460.4 425.4a2.8 2.8 0 1 0 5.6 0a2.8 2.8 0 1 0 -5.6 0M461.6 426.4a2.8 2.8 0 1 0 5.6 0a2.8 2.8 0 1 0 -5.6 0M462.9 426.8a2.8 2.8 0 1 0 5.6 0a2.8 2.8 0 1 0 -5.6 0M464.1 427.7a2.8 2.8 0 1 0 5.6 0a2.8 2.8 0 1 0 -5.6 0M465.6 425.7a2.8 2.8 0 1 0 5.6 0a2.8 2.8 0 1 0 -5.6 0M467.3 426.4a2.8 2.8 0 1 0 5.6 0a2.8 2.8 0 1 0 -5.6 0M468.7 426.1a2.8 2.8 0 1 0 5.6 0a2.8 2.8 0 1 0 -5.6 0M469.5 426.3a2.8 2.8 0 1 0 5.6 0a2.8 2.8 0 1 0 -5.6 0M470.4 425.2a2.8 2.8 0 1 0 5.6 0a2.8 2.8 0 1 0 -5.6 0M471.9 423.4a2.8 2.8 0 1 0 5.6 0a2.8 2.8 0 1 0 -5.6 0M473.3 421.3a2.8 2.8 0 1 0 5.6 0a2.8 2.8 0 1 0 -5.6 0M474.3 420.8a2.8 2.8 0 1 0 5.6 0a2.8 2.8 0 1 0 -5.6 0M475.5 420.0a2.8 2.8 0 1 0 5.6 0a2.8 2.8 0 1 0 -5.6 0M476.3 420.4a2.8 2.8 0 1 0 5.6 0a2.8 2.8 0 1 0 -5.6 0M478.5 419.1a2.8 2.8 0 1 0 5.6 0a2.8 2.8 0 1 0 -5.6 0M479.7 419.5a2.8 2.8 0 1 0 5.6 0a2.8 2.8 0 1 0 -5.6 0M481.0 418.7a2.8 2.8 0 1 0 5.6 0a2.8 2.8 0 1 0 -5.6 0M482.1 418.7a2.8 2.8 0 1 0 5.6 0a2.8 2.8 0 1 0 -5.6 0M484.0 418.7a2.8 2.8 0 1 0 5.6 0a2.8 2.8 0 1 0 -5.6 0M484.9 418.1a2.8 2.8 0 1 0 5.6 0a2.8 2.8 0 1 0 -5.6 0M486.5 419.4a2.8 2.8 0 1 0 5.6 0a2.8 2.8 0 1 0 -5.6 0M488.0 420.7a2.8 2.8 0 1 0 5.6 0a2.8 2.8 0 1 0 -5.6 0M488.6 421.4a2.8 2.8 0 1 0 5.6 0a2.8 2.8 0 1 0 -5.6 0M490.6 421.4a2.8 2.8 0 1 0 5.6 0a2.8 2.8 0 1 0 -5.6 0M491.8 421.3a2.8 2.8 0 1 0 5.6 0a2.8 2.8 0 1 0 -5.6 0M493.0 421.5a2.8 2.8 0 1 0 5.6 0a2.8 2.8 0 1 0 -5.6 0M494.2 420.5a2.8 2.8 0 1 0 5.6 0a2.8 2.8 0 1 0 -5.6 0M495.1 422.2a2.8 2.8 0 1 0 5.6 0a2.8 2.8 0 1 0 -5.6 0M496.8 420.5a2.8 2.8 0 1 0 5.6 0a2.8 2.8 0 1 0 -5.6 0M498.2 422.1a2.8 2.8 0 1 0 5.6 0a2.8 2.8 0 1 0 -5.6 0M499.5 422.7a2.8 2.8 0 1 0 5.6 0a2.8 2.8 0 1 0 -5.6 0M501.2 421.5a2.8 2.8 0 1 0 5.6 0a2.8 2.8 0 1 0 -5.6 0M502.6 421.9a2.8 2.8 0 1 0 5.6 0a2.8 2.8 0 1 0 -5.6 0M503.8 421.6a2.8 2.8 0 1 0 5.6 0a2.8 2.8 0 1 0 -5.6 0M505.5 421.7a2.8 2.8 0 1 0 5.6 0a2.8 2.8 0 1 0 -5.6 0M506.9 421.4a2.8 2.8 0 1 0 5.6 0a2.8 2.8 0 1 0 -5.6 0M508.1 423.2a2.8 2.8 0 1 0 5.6 0a2.8 2.8 0 1 0 -5.6 0M509.5 421.6a2.8 2.8 0 1 0 5.6 0a2.8 2.8 0 1 0 -5.6 0M510.5 421.9a2.8 2.8 0 1 0 5.6 0a2.8 2.8 0 1 0 -5.6 0M512.1 422.9a2.8 2.8 0 1 0 5.6 0a2.8 2.8 0 1 0 -5.6 0M513.7 423.5a2.8 2.8 0 1 0 5.6 0a2.8 2.8 0 1 0 -5.6 0M514.8 421.8a2.8 2.8 0 1 0 5.6 0a2.8 2.8 0 1 0 -5.6 0M516.2 422.8a2.8 2.8 0 1 0 5.6 0a2.8 2.8 0 1 0 -5.6 0M517.1 421.3a2.8 2.8 0 1 0 5.6 0a2.8 2.8 0 1 0 -5.6 0M518.5 421.6a2.8 2.8 0 1 0 5.6 0a2.8 2.8 0 1 0 -5.6 0M519.9 423.6a2.8 2.8 0 1 0 5.6 0a2.8 2.8 0 1 0 -5.6 0M521.1 423.5a2.8 2.8 0 1 0 5.6 0a2.8 2.8 0 1 0 -5.6 0M522.5 421.4a2.8 2.8 0 1 0 5.6 0a2.8 2.8 0 1 0 -5.6 0M524.0 422.3a2.8 2.8 0 1 0 5.6 0a2.8 2.8 0 1 0 -5.6 0" fill="#e5002a"/>
<circle cx="307.9" cy="405.0" r="2.8" fill="#e5002a"/>
<circle cx="312.3" cy="412.7" r="2.8" fill="#e5002a"/>
<circle cx="362.0" cy="437.0" r="2.8" fill="#e5002a"/>
<circle cx="366.0" cy="438.5" r="2.8" fill="#e5002a"/>
<path d="M307.9 423.6a2.8 2.8 0 1 0 5.6 0a2.8 2.8 0 1 0 -5.6 0M308.6 423.3a2.8 2.8 0 1 0 5.6 0a2.8 2.8 0 1 0 -5.6 0M308.7 425.9a2.8 2.8 0 1 0 5.6 0a2.8 2.8 0 1 0 -5.6 0M309.0 425.3a2.8 2.8 0 1 0 5.6 0a2.8 2.8 0 1 0 -5.6 0M308.8 427.4a2.8 2.8 0 1 0 5.6 0a2.8 2.8 0 1 0 -5.6 0M309.7 428.3a2.8 2.8 0 1 0 5.6 0a2.8 2.8 0 1 0 -5.6 0M309.8 429.8a2.8 2.8 0 1 0 5.6 0a2.8 2.8 0 1 0 -5.6 0M310.4 432.9a2.8 2.8 0 1 0 5.6 0a2.8 2.8 0 1 0 -5.6 0M310.6 434.3a2.8 2.8 0 1 0 5.6 0a2.8 2.8 0 1 0 -5.6 0M310.8 435.0a2.8 2.8 0 1 0 5.6 0a2.8 2.8 0 1 0 -5.6 0M312.1 434.3a2.8 2.8 0 1 0 5.6 0a2.8 2.8 0 1 0 -5.6 0M312.5 436.7a2.8 2.8 0 1 0 5.6 0a2.8 2.8 0 1 0 -5.6 0M313.2 436.9a2.8 2.8 0 1 0 5.6 0a2.8 2.8 0 1 0 -5.6 0M313.4 440.1a2.8 2.8 0 1 0 5.6 0a2.8 2.8 0 1 0 -5.6 0M314.2 439.7a2.8 2.8 0 1 0 5.6 0a2.8 2.8 0 1 0 -5.6 0M314.5 442.9a2.8 2.8 0 1 0 5.6 0a2.8 2.8 0 1 0 -5.6 0M315.6 444.3a2.8 2.8 0 1 0 5.6 0a2.8 2.8 0 1 0 -5.6 0M316.8 443.8a2.8 2.8 0 1 0 5.6 0a2.8 2.8 0 1 0 -5.6 0M318.8 444.2a2.8 2.8 0 1 0 5.6 0a2.8 2.8 0 1 0 -5.6 0M319.6 442.7a2.8 2.8 0 1 0 5.6 0a2.8 2.8 0 1 0 -5.6 0M321.0 443.9a2.8 2.8 0 1 0 5.6 0a2.8 2.8 0 1 0 -5.6 0M322.7 444.6a2.8 2.8 0 1 0 5.6 0a2.8 2.8 0 1 0 -5.6 0M324.2 444.1a2.8 2.8 0 1 0 5.6 0a2.8 2.8 0 1 0 -5.6 0M326.0 442.6a2.8 2.8 0 1 0 5.6 0a2.8 2.8 0 1 0 -5.6 0M327.2 444.9a2.8 2.8 0 1 0 5.6 0a2.8 2.8 0 1 0 -5.6 0M328.5 443.0a2.8 2.8 0 1 0 5.6 0a2.8 2.8 0 1 0 -5.6 0M329.6 444.3a2.8 2.8 0 1 0 5.6 0a2.8 2.8 0 1 0 -5.6 0M330.9 443.7a2.8 2.8 0 1 0 5.6 0a2.8 2.8 0 1 0 -5.6 0M332.4 443.5a2.8 2.8 0 1 0 5.6 0a2.8 2.8 0 1 0 -5.6 0M333.4 443.7a2.8 2.8 0 1 0 5.6 0a2.8 2.8 0 1 0 -5.6 0M335.3 442.7a2.8 2.8 0 1 0 5.6 0a2.8 2.8 0 1 0 -5.6 0M336.2 444.4a2.8 2.8 0 1 0 5.6 0a2.8 2.8 0 1 0 -5.6 0M337.7 442.4a2.8 2.8 0 1 0 5.6 0a2.8 2.8 0 1 0 -5.6 0M338.5 443.8a2.8 2.8 0 1 0 5.6 0a2.8 2.8 0 1 0 -5.6 0M340.1 442.9a2.8 2.8 0 1 0 5.6 0a2.8 2.8 0 1 0 -5.6 0M341.4 443.1a2.8 2.8 0 1 0 5.6 0a2.8 2.8 0 1 0 -5.6 0M343.2 441.8a2.8 2.8 0 1 0 5.6 0a2.8 2.8 0 1 0 -5.6 0M344.1 443.6a2.8 2.8 0 1 0 5.6 0a2.8 2.8 0 1 0 -5.6 0M346.1 440.4a2.8 2.8 0 1 0 5.6 0a2.8 2.8 0 1 0 -5.6 0M347.3 442.1a2.8 2.8 0 1 0 5.6 0a2.8 2.8 0 1 0 -5.6 0M348.8 442.6a2.8 2.8 0 1 0 5.6 0a2.8 2.8 0 1 0 -5.6 0M350.9 442.5a2.8 2.8 0 1 0 5.6 0a2.8 2.8 0 1 0 -5.6 0M352.1 441.7a2.8 2.8 0 1 0 5.6 0a2.8 2.8 0 1 0 -5.6 0M353.4 441.4a2.8 2.8 0 1 0 5.6 0a2.8 2.8 0 1 0 -5.6 0M354.7 441.4a2.8 2.8 0 1 0 5.6 0a2.8 2.8 0 1 0 -5.6 0M356.7 442.2a2.8 2.8 0 1 0 5.6 0a2.8 2.8 0 1 0 -5.6 0M358.1 443.1a2.8 2.8 0 1 0 5.6 0a2.8 2.8 0 1 0 -5.6 0M359.5 440.4a2.8 2.8 0 1 0 5.6 0a2.8 2.8 0 1 0 -5.6 0M361.0 440.3a2.8 2.8 0 1 0 5.6 0a2.8 2.8 0 1 0 -5.6 0M362.3 442.4a2.8 2.8 0 1 0 5.6 0a2.8 2.8 0 1 0 -5.6 0M363.6 440.9a2.8 2.8 0 1 0 5.6 0a2.8 2.8 0 1 0 -5.6 0M364.6 439.8a2.8 2.8 0 1 0 5.6 0a2.8 2.8 0 1 0 -5.6 0M366.6 440.0a2.8 2.8 0 1 0 5.6 0a2.8 2.8 0 1 0 -5.6 0M368.1 439.8a2.8 2.8 0 1 0 5.6 0a2.8 2.8 0 1 0 -5.6 0M369.4 439.6a2.8 2.8 0 1 0 5.6 0a2.8 2.8 0 1 0 -5.6 0M371.4 440.0a2.8 2.8 0 1 0 5.6 0a2.8 2.8 0 1 0 -5.6 0M372.4 439.6a2.8 2.8 0 1 0 5.6 0a2.8 2.8 0 1 0 -5.6 0M373.8 439.4a2.8 2.8 0 1 0 5.6 0a2.8 2.8 0 1 0 -5.6 0M375.0 440.5a2.8 2.8 0 1 0 5.6 0a2.8 2.8 0 1 0 -5.6 0M376.5 437.9a2.8 2.8 0 1 0 5.6 0a2.8 2.8 0 1 0 -5.6 0M377.4 437.5a2.8 2.8 0 1 0 5.6 0a2.8 2.8 0 1 0 -5.6 0M378.7 436.7a2.8 2.8 0 1 0 5.6 0a2.8 2.8 0 1 0 -5.6 0M380.3 438.0a2.8 2.8 0 1 0 5.6 0a2.8 2.8 0 1 0 -5.6 0M381.3 438.7a2.8 2.8 0 1 0 5.6 0a2.8 2.8 0 1 0 -5.6 0M382.5 437.4a2.8 2.8 0 1 0 5.6 0a2.8 2.8 0 1 0 -5.6 0M384.2 437.0a2.8 2.8 0 1 0 5.6 0a2.8 2.8 0 1 0 -5.6 0M385.2 436.2a2.8 2.8 0 1 0 5.6 0a2.8 2.8 0 1 0 -5.6 0M386.8 437.0a2.8 2.8 0 1 0 5.6 0a2.8 2.8 0 1 0 -5.6 0M387.5 435.5a2.8 2.8 0 1 0 5.6 0a2.8 2.8 0 1 0 -5.6 0M389.0 435.7a2.8 2.8 0 1 0 5.6 0a2.8 2.8 0 1 0 -5.6 0M390.2 434.4a2.8 2.8 0 1 0 5.6 0a2.8 2.8 0 1 0 -5.6 0M391.6 435.8a2.8 2.8 0 1 0 5.6 0a2.8 2.8 0 1 0 -5.6 0M393.1 435.0a2.8 2.8 0 1 0 5.6 0a2.8 2.8 0 1 0 -5.6 0M394.2 435.1a2.8 2.8 0 1 0 5.6 0a2.8 2.8 0 1 0 -5.6 0M395.7 434.9a2.8 2.8 0 1 0 5.6 0a2.8 2.8 0 1 0 -5.6 0M396.6 434.2a2.8 2.8 0 1 0 5.6 0a2.8 2.8 0 1 0 -5.6 0M398.7 435.9a2.8 2.8 0 1 0 5.6 0a2.8 2.8 0 1 0 -5.6 0M399.7 435.6a2.8 2.8 0 1 0 5.6 0a2.8 2.8 0 1 0 -5.6 0M400.8 434.0a2.8 2.8 0 1 0 5.6 0a2.8 2.8 0 1 0 -5.6 0M402.4 435.3a2.8 2.8 0 1 0 5.6 0a2.8 2.8 0 1 0 -5.6 0M403.4 434.5a2.8 2.8 0 1 0 5.6 0a2.8 2.8 0 1 0 -5.6 0M405.5 434.9a2.8 2.8 0 1 0 5.6 0a2.8 2.8 0 1 0 -5.6 0M406.9 433.2a2.8 2.8 0 1 0 5.6 0a2.8 2.8 0 1 0 -5.6 0M408.2 435.4a2.8 2.8 0 1 0 5.6 0a2.8 2.8 0 1 0 -5.6 0M408.8 434.4a2.8 2.8 0 1 0 5.6 0a2.8 2.8 0 1 0 -5.6 0M410.7 433.4a2.8 2.8 0 1 0 5.6 0a2.8 2.8 0 1 0 -5.6 0M411.9 435.2a2.8 2.8 0 1 0 5.6 0a2.8 2.8 0 1 0 -5.6 0M413.3 433.8a2.8 2.8 0 1 0 5.6 0a2.8 2.8 0 1 0 -5.6 0M414.0 434.1a2.8 2.8 0 1 0 5.6 0a2.8 2.8 0 1 0 -5.6 0M415.5 434.0a2.8 2.8 0 1 0 5.6 0a2.8 2.8 0 1 0 -5.6 0M416.8 433.3a2.8 2.8 0 1 0 5.6 0a2.8 2.8 0 1 0 -5.6 0M418.3 434.6a2.8 2.8 0 1 0 5.6 0a2.8 2.8 0 1 0 -5.6 0M420.0 433.3a2.8 2.8 0 1 0 5.6 0a2.8 2.8 0 1 0 -5.6 0M420.5 434.2a2.8 2.8 0 1 0 5.6 0a2.8 2.8 0 1 0 -5.6 0M422.1 434.2a2.8 2.8 0 1 0 5.6 0a2.8 2.8 0 1 0 -5.6 0M423.9 431.9a2.8 2.8 0 1 0 5.6 0a2.8 2.8 0 1 0 -5.6 0M425.2 432.6a2.8 2.8 0 1 0 5.6 0a2.8 2.8 0 1 0 -5.6 0M426.3 432.6a2.8 2.8 0 1 0 5.6 0a2.8 2.8 0 1 0 -5.6 0M427.8 432.3a2.8 2.8 0 1 0 5.6 0a2.8 2.8 0 1 0 -5.6 0M429.2 432.3a2.8 2.8 0 1 0 5.6 0a2.8 2.8 0 1 0 -5.6 0M430.3 432.1a2.8 2.8 0 1 0 5.6 0a2.8 2.8 0 1 0 -5.6 0M432.1 432.2a2.8 2.8 0 1 0 5.6 0a2.8 2.8 0 1 0 -5.6 0M433.2 432.3a2.8 2.8 0 1 0 5.6 0a2.8 2.8 0 1 0 -5.6 0M434.6 434.0a2.8 2.8 0 1 0 5.6 0a2.8 2.8 0 1 0 -5.6 0M436.4 431.5a2.8 2.8 0 1 0 5.6 0a2.8 2.8 0 1 0 -5.6 0M437.4 432.1a2.8 2.8 0 1 0 5.6 0a2.8 2.8 0 1 0 -5.6 0M438.9 431.8a2.8 2.8 0 1 0 5.6 0a2.8 2.8 0 1 0 -5.6 0M440.3 432.7a2.8 2.8 0 1 0 5.6 0a2.8 2.8 0 1 0 -5.6 0M441.4 432.0a2.8 2.8 0 1 0 5.6 0a2.8 2.8 0 1 0 -5.6 0M442.7 431.7a2.8 2.8 0 1 0 5.6 0a2.8 2.8 0 1 0 -5.6 0M444.2 432.3a2.8 2.8 0 1 0 5.6 0a2.8 2.8 0 1 0 -5.6 0M446.0 432.6a2.8 2.8 0 1 0 5.6 0a2.8 2.8 0 1 0 -5.6 0M447.0 431.4a2.8 2.8 0 1 0 5.6 0a2.8 2.8 0 1 0 -5.6 0M448.1 431.5a2.8 2.8 0 1 0 5.6 0a2.8 2.8 0 1 0 -5.6 0M450.0 430.5a2.8 2.8 0 1 0 5.6 0a2.8 2.8 0 1 0 -5.6 0M451.0 431.3a2.8 2.8 0 1 0 5.6 0a2.8 2.8 0 1 0 -5.6 0M452.7 431.3a2.8 2.8 0 1 0 5.6 0a2.8 2.8 0 1 0 -5.6 0M453.7 429.4a2.8 2.8 0 1 0 5.6 0a2.8 2.8 0 1 0 -5.6 0M455.0 429.1a2.8 2.8 0 1 0 5.6 0a2.8 2.8 0 1 0 -5.6 0M456.2 428.7a2.8 2.8 0 1 0 5.6 0a2.8 2.8 0 1 0 -5.6 0M457.9 429.5a2.8 2.8 0 1 0 5.6 0a2.8 2.8 0 1 0 -5.6 0M459.6 429.2a2.8 2.8 0 1 0 5.6 0a2.8 2.8 0 1 0 -5.6 0M460.4 430.7a2.8 2.8 0 1 0 5.6 0a2.8 2.8 0 1 0 -5.6 0M461.6 428.8a2.8 2.8 0 1 0 5.6 0a2.8 2.8 0 1 0 -5.6 0M463.6 428.6a2.8 2.8 0 1 0 5.6 0a2.8 2.8 0 1 0 -5.6 0M465.1 429.7a2.8 2.8 0 1 0 5.6 0a2.8 2.8 0 1 0 -5.6 0M465.9 429.9a2.8 2.8 0 1 0 5.6 0a2.8 2.8 0 1 0 -5.6 0M467.8 428.8a2.8 2.8 0 1 0 5.6 0a2.8 2.8 0 1 0 -5.6 0M468.5 427.4a2.8 2.8 0 1 0 5.6 0a2.8 2.8 0 1 0 -5.6 0M470.4 429.6a2.8 2.8 0 1 0 5.6 0a2.8 2.8 0 1 0 -5.6 0M471.6 429.1a2.8 2.8 0 1 0 5.6 0a2.8 2.8 0 1 0 -5.6 0M473.1 427.4a2.8 2.8 0 1 0 5.6 0a2.8 2.8 0 1 0 -5.6 0M474.0 429.1a2.8 2.8 0 1 0 5.6 0a2.8 2.8 0 1 0 -5.6 0M475.8 427.6a2.8 2.8 0 1 0 5.6 0a2.8 2.8 0 1 0 -5.6 0M476.6 426.3a2.8 2.8 0 1 0 5.6 0a2.8 2.8 0 1 0 -5.6 0M478.0 428.6a2.8 2.8 0 1 0 5.6 0a2.8 2.8 0 1 0 -5.6 0M479.2 426.6a2.8 2.8 0 1 0 5.6 0a2.8 2.8 0 1 0 -5.6 0M480.3 427.2a2.8 2.8 0 1 0 5.6 0a2.8 2.8 0 1 0 -5.6 0M481.6 427.3a2.8 2.8 0 1 0 5.6 0a2.8 2.8 0 1 0 -5.6 0M483.3 426.4a2.8 2.8 0 1 0 5.6 0a2.8 2.8 0 1 0 -5.6 0M484.4 425.8a2.8 2.8 0 1 0 5.6 0a2.8 2.8 0 1 0 -5.6 0M486.2 427.5a2.8 2.8 0 1 0 5.6 0a2.8 2.8 0 1 0 -5.6 0M487.4 425.1a2.8 2.8 0 1 0 5.6 0a2.8 2.8 0 1 0 -5.6 0M488.3 425.6a2.8 2.8 0 1 0 5.6 0a2.8 2.8 0 1 0 -5.6 0M490.1 427.4a2.8 2.8 0 1 0 5.6 0a2.8 2.8 0 1 0 -5.6 0M490.9 426.5a2.8 2.8 0 1 0 5.6 0a2.8 2.8 0 1 0 -5.6 0M492.3 426.0a2.8 2.8 0 1 0 5.6 0a2.8 2.8 0 1 0 -5.6 0M493.5 426.8a2.8 2.8 0 1 0 5.6 0a2.8 2.8 0 1 0 -5.6 0M495.3 427.5a2.8 2.8 0 1 0 5.6 0a2.8 2.8 0 1 0 -5.6 0M496.3 426.0a2.8 2.8 0 1 0 5.6 0a2.8 2.8 0 1 0 -5.6 0M497.8 425.1a2.8 2.8 0 1 0 5.6 0a2.8 2.8 0 1 0 -5.6 0M499.3 427.0a2.8 2.8 0 1 0 5.6 0a2.8 2.8 0 1 0 -5.6 0M500.0 426.0a2.8 2.8 0 1 0 5.6 0a2.8 2.8 0 1 0 -5.6 0M501.6 427.3a2.8 2.8 0 1 0 5.6 0a2.8 2.8 0 1 0 -5.6 0M503.0 425.5a2.8 2.8 0 1 0 5.6 0a2.8 2.8 0 1 0 -5.6 0M504.5 427.6a2.8 2.8 0 1 0 5.6 0a2.8 2.8 0 1 0 -5.6 0M505.8 426.3a2.8 2.8 0 1 0 5.6 0a2.8 2.8 0 1 0 -5.6 0M506.8 426.1a2.8 2.8 0 1 0 5.6 0a2.8 2.8 0 1 0 -5.6 0M508.5 426.3a2.8 2.8 0 1 0 5.6 0a2.8 2.8 0 1 0 -5.6 0M509.8 425.5a2.8 2.8 0 1 0 5.6 0a2.8 2.8 0 1 0 -5.6 0M510.4 426.3a2.8 2.8 0 1 0 5.6 0a2.8 2.8 0 1 0 -5.6 0M511.8 425.7a2.8 2.8 0 1 0 5.6 0a2.8 2.8 0 1 0 -5.6 0M513.0 425.3a2.8 2.8 0 1 0 5.6 0a2.8 2.8 0 1 0 -5.6 0M514.6 425.2a2.8 2.8 0 1 0 5.6 0a2.8 2.8 0 1 0 -5.6 0M515.8 426.7a2.8 2.8 0 1 0 5.6 0a2.8 2.8 0 1 0 -5.6 0M517.1 425.8a2.8 2.8 0 1 0 5.6 0a2.8 2.8 0 1 0 -5.6 0M518.5 425.7a2.8 2.8 0 1 0 5.6 0a2.8 2.8 0 1 0 -5.6 0M520.0 427.2a2.8 2.8 0 1 0 5.6 0a2.8 2.8 0 1 0 -5.6 0M520.9 426.5a2.8 2.8 0 1 0 5.6 0a2.8 2.8 0 1 0 -5.6 0M522.6 427.7a2.8 2.8 0 1 0 5.6 0a2.8 2.8 0 1 0 -5.6 0M524.1 425.7a2.8 2.8 0 1 0 5.6 0a2.8 2.8 0 1 0 -5.6 0M525.3 427.6a2.8 2.8 0 1 0 5.6 0a2.8 2.8 0 1 0 -5.6 0M526.9 427.2a2.8 2.8 0 1 0 5.6 0a2.8 2.8 0 1 0 -5.6 0M527.5 426.0a2.8 2.8 0 1 0 5.6 0a2.8 2.8 0 1 0 -5.6 0M529.1 425.9a2.8 2.8 0 1 0 5.6 0a2.8 2.8 0 1 0 -5.6 0M530.7 426.4a2.8 2.8 0 1 0 5.6 0a2.8 2.8 0 1 0 -5.6 0M532.2 424.9a2.8 2.8 0 1 0 5.6 0a2.8 2.8 0 1 0 -5.6 0M533.1 426.4a2.8 2.8 0 1 0 5.6 0a2.8 2.8 0 1 0 -5.6 0" fill="#199fe0"/>
<path d="M310.9 434.5a2.8 2.8 0 1 0 5.6 0a2.8 2.8 0 1 0 -5.6 0M311.9 434.3a2.8 2.8 0 1 0 5.6 0a2.8 2.8 0 1 0 -5.6 0M312.8 436.4a2.8 2.8 0 1 0 5.6 0a2.8 2.8 0 1 0 -5.6 0M313.6 437.5a2.8 2.8 0 1 0 5.6 0a2.8 2.8 0 1 0 -5.6 0M314.2 438.1a2.8 2.8 0 1 0 5.6 0a2.8 2.8 0 1 0 -5.6 0M315.4 439.5a2.8 2.8 0 1 0 5.6 0a2.8 2.8 0 1 0 -5.6 0M316.3 441.8a2.8 2.8 0 1 0 5.6 0a2.8 2.8 0 1 0 -5.6 0M317.5 443.2a2.8 2.8 0 1 0 5.6 0a2.8 2.8 0 1 0 -5.6 0M318.0 442.0a2.8 2.8 0 1 0 5.6 0a2.8 2.8 0 1 0 -5.6 0M319.4 443.9a2.8 2.8 0 1 0 5.6 0a2.8 2.8 0 1 0 -5.6 0M320.0 445.2a2.8 2.8 0 1 0 5.6 0a2.8 2.8 0 1 0 -5.6 0M321.5 446.6a2.8 2.8 0 1 0 5.6 0a2.8 2.8 0 1 0 -5.6 0M322.0 445.9a2.8 2.8 0 1 0 5.6 0a2.8 2.8 0 1 0 -5.6 0M323.2 448.1a2.8 2.8 0 1 0 5.6 0a2.8 2.8 0 1 0 -5.6 0M324.8 447.5a2.8 2.8 0 1 0 5.6 0a2.8 2.8 0 1 0 -5.6 0M326.5 447.2a2.8 2.8 0 1 0 5.6 0a2.8 2.8 0 1 0 -5.6 0M327.9 448.0a2.8 2.8 0 1 0 5.6 0a2.8 2.8 0 1 0 -5.6 0M329.4 446.6a2.8 2.8 0 1 0 5.6 0a2.8 2.8 0 1 0 -5.6 0M330.5 447.3a2.8 2.8 0 1 0 5.6 0a2.8 2.8 0 1 0 -5.6 0M332.5 446.4a2.8 2.8 0 1 0 5.6 0a2.8 2.8 0 1 0 -5.6 0M333.8 447.8a2.8 2.8 0 1 0 5.6 0a2.8 2.8 0 1 0 -5.6 0M334.8 446.3a2.8 2.8 0 1 0 5.6 0a2.8 2.8 0 1 0 -5.6 0M336.6 446.9a2.8 2.8 0 1 0 5.6 0a2.8 2.8 0 1 0 -5.6 0M337.8 446.9a2.8 2.8 0 1 0 5.6 0a2.8 2.8 0 1 0 -5.6 0M339.0 447.4a2.8 2.8 0 1 0 5.6 0a2.8 2.8 0 1 0 -5.6 0M340.8 446.7a2.8 2.8 0 1 0 5.6 0a2.8 2.8 0 1 0 -5.6 0M342.1 447.4a2.8 2.8 0 1 0 5.6 0a2.8 2.8 0 1 0 -5.6 0M343.9 446.3a2.8 2.8 0 1 0 5.6 0a2.8 2.8 0 1 0 -5.6 0M344.7 444.8a2.8 2.8 0 1 0 5.6 0a2.8 2.8 0 1 0 -5.6 0M346.1 444.3a2.8 2.8 0 1 0 5.6 0a2.8 2.8 0 1 0 -5.6 0M347.9 445.4a2.8 2.8 0 1 0 5.6 0a2.8 2.8 0 1 0 -5.6 0M349.2 445.0a2.8 2.8 0 1 0 5.6 0a2.8 2.8 0 1 0 -5.6 0" fill="#199fe0"/>
<path d="M315.3 438.6a2.8 2.8 0 1 0 5.6 0a2.8 2.8 0 1 0 -5.6 0M316.4 438.6a2.8 2.8 0 1 0 5.6 0a2.8 2.8 0 1 0 -5.6 0M317.5 440.2a2.8 2.8 0 1 0 5.6 0a2.8 2.8 0 1 0 -5.6 0M318.6 439.1a2.8 2.8 0 1 0 5.6 0a2.8 2.8 0 1 0 -5.6 0M319.8 439.9a2.8 2.8 0 1 0 5.6 0a2.8 2.8 0 1 0 -5.6 0M321.1 440.5a2.8 2.8 0 1 0 5.6 0a2.8 2.8 0 1 0 -5.6 0M322.2 440.8a2.8 2.8 0 1 0 5.6 0a2.8 2.8 0 1 0 -5.6 0M323.7 441.5a2.8 2.8 0 1 0 5.6 0a2.8 2.8 0 1 0 -5.6 0M325.0 440.6a2.8 2.8 0 1 0 5.6 0a2.8 2.8 0 1 0 -5.6 0M326.3 441.8a2.8 2.8 0 1 0 5.6 0a2.8 2.8 0 1 0 -5.6 0M327.8 442.3a2.8 2.8 0 1 0 5.6 0a2.8 2.8 0 1 0 -5.6 0M329.4 441.8a2.8 2.8 0 1 0 5.6 0a2.8 2.8 0 1 0 -5.6 0M330.3 442.5a2.8 2.8 0 1 0 5.6 0a2.8 2.8 0 1 0 -5.6 0M332.3 441.9a2.8 2.8 0 1 0 5.6 0a2.8 2.8 0 1 0 -5.6 0M333.6 441.8a2.8 2.8 0 1 0 5.6 0a2.8 2.8 0 1 0 -5.6 0M335.2 443.0a2.8 2.8 0 1 0 5.6 0a2.8 2.8 0 1 0 -5.6 0M336.6 443.3a2.8 2.8 0 1 0 5.6 0a2.8 2.8 0 1 0 -5.6 0M337.6 442.5a2.8 2.8 0 1 0 5.6 0a2.8 2.8 0 1 0 -5.6 0M339.4 443.1a2.8 2.8 0 1 0 5.6 0a2.8 2.8 0 1 0 -5.6 0M340.4 441.7a2.8 2.8 0 1 0 5.6 0a2.8 2.8 0 1 0 -5.6 0M342.0 441.5a2.8 2.8 0 1 0 5.6 0a2.8 2.8 0 1 0 -5.6 0M343.4 441.3a2.8 2.8 0 1 0 5.6 0a2.8 2.8 0 1 0 -5.6 0M344.5 442.1a2.8 2.8 0 1 0 5.6 0a2.8 2.8 0 1 0 -5.6 0M345.6 442.0a2.8 2.8 0 1 0 5.6 0a2.8 2.8 0 1 0 -5.6 0M347.2 442.0a2.8 2.8 0 1 0 5.6 0a2.8 2.8 0 1 0 -5.6 0" fill="#199fe0"/>
<circle cx="307.9" cy="401.1" r="2.8" fill="#199fe0"/>
<circle cx="309.0" cy="415.5" r="2.8" fill="#199fe0"/>
<circle cx="364.5" cy="449.5" r="2.8" fill="#199fe0"/>
<circle cx="437.2" cy="437.8" r="2.8" fill="#199fe0"/>
<circle cx="510.9" cy="431.4" r="2.8" fill="#199fe0"/>
</g>
<path d="M52.75 169.70v-4.5M52.75 15.50v4.5M109.95 169.70v-4.5M109.95 15.50v4.5M167.15 169.70v-4.5M167.15 15.50v4.5M224.35 169.70v-4.5M224.35 15.50v4.5M281.55 169.70v-4.5M281.55 15.50v4.5M81.35 169.70v-2.2M81.35 15.50v2.2M138.55 169.70v-2.2M138.55 15.50v2.2M195.75 169.70v-2.2M195.75 15.50v2.2M252.95 169.70v-2.2M252.95 15.50v2.2M52.75 144.00h4.5M287.00 144.00h-4.5M52.75 101.17h4.5M287.00 101.17h-4.5M52.75 58.33h4.5M287.00 58.33h-4.5M52.75 15.50h4.5M287.00 15.50h-4.5M52.75 165.42h2.2M287.00 165.42h-2.2M52.75 122.58h2.2M287.00 122.58h-2.2M52.75 79.75h2.2M287.00 79.75h-2.2M52.75 36.92h2.2M287.00 36.92h-2.2" stroke="#000" stroke-width="1.5" fill="none"/>
<rect x="52.75" y="15.50" width="234.25" height="154.20" stroke="#000" stroke-width="1.55" fill="none"/>
<path d="M52.75 336.40v-4.5M52.75 182.60v4.5M109.95 336.40v-4.5M109.95 182.60v4.5M167.15 336.40v-4.5M167.15 182.60v4.5M224.35 336.40v-4.5M224.35 182.60v4.5M281.55 336.40v-4.5M281.55 182.60v4.5M81.35 336.40v-2.2M81.35 182.60v2.2M138.55 336.40v-2.2M138.55 182.60v2.2M195.75 336.40v-2.2M195.75 182.60v2.2M252.95 336.40v-2.2M252.95 182.60v2.2M52.75 319.31h4.5M287.00 319.31h-4.5M52.75 285.13h4.5M287.00 285.13h-4.5M52.75 250.96h4.5M287.00 250.96h-4.5M52.75 216.78h4.5M287.00 216.78h-4.5M52.75 182.60h4.5M287.00 182.60h-4.5M52.75 336.40h2.2M287.00 336.40h-2.2M52.75 302.22h2.2M287.00 302.22h-2.2M52.75 268.04h2.2M287.00 268.04h-2.2M52.75 233.87h2.2M287.00 233.87h-2.2M52.75 199.69h2.2M287.00 199.69h-2.2" stroke="#000" stroke-width="1.5" fill="none"/>
<rect x="52.75" y="182.60" width="234.25" height="153.80" stroke="#000" stroke-width="1.55" fill="none"/>
<path d="M52.75 502.80v-4.5M52.75 349.20v4.5M109.95 502.80v-4.5M109.95 349.20v4.5M167.15 502.80v-4.5M167.15 349.20v4.5M224.35 502.80v-4.5M224.35 349.20v4.5M281.55 502.80v-4.5M281.55 349.20v4.5M81.35 502.80v-2.2M81.35 349.20v2.2M138.55 502.80v-2.2M138.55 349.20v2.2M195.75 502.80v-2.2M195.75 349.20v2.2M252.95 502.80v-2.2M252.95 349.20v2.2M52.75 502.80h4.5M287.00 502.80h-4.5M52.75 451.60h4.5M287.00 451.60h-4.5M52.75 400.40h4.5M287.00 400.40h-4.5M52.75 349.20h4.5M287.00 349.20h-4.5M52.75 477.20h2.2M287.00 477.20h-2.2M52.75 426.00h2.2M287.00 426.00h-2.2M52.75 374.80h2.2M287.00 374.80h-2.2" stroke="#000" stroke-width="1.5" fill="none"/>
<rect x="52.75" y="349.20" width="234.25" height="153.60" stroke="#000" stroke-width="1.55" fill="none"/>
<path d="M305.80 169.70v-4.5M305.80 15.50v4.5M363.00 169.70v-4.5M363.00 15.50v4.5M420.20 169.70v-4.5M420.20 15.50v4.5M477.40 169.70v-4.5M477.40 15.50v4.5M534.60 169.70v-4.5M534.60 15.50v4.5M334.40 169.70v-2.2M334.40 15.50v2.2M391.60 169.70v-2.2M391.60 15.50v2.2M448.80 169.70v-2.2M448.80 15.50v2.2M506.00 169.70v-2.2M506.00 15.50v2.2M305.80 144.00h4.5M540.00 144.00h-4.5M305.80 101.17h4.5M540.00 101.17h-4.5M305.80 58.33h4.5M540.00 58.33h-4.5M305.80 15.50h4.5M540.00 15.50h-4.5M305.80 165.42h2.2M540.00 165.42h-2.2M305.80 122.58h2.2M540.00 122.58h-2.2M305.80 79.75h2.2M540.00 79.75h-2.2M305.80 36.92h2.2M540.00 36.92h-2.2" stroke="#000" stroke-width="1.5" fill="none"/>
<rect x="305.80" y="15.50" width="234.20" height="154.20" stroke="#000" stroke-width="1.55" fill="none"/>
<path d="M305.80 336.40v-4.5M305.80 182.60v4.5M363.00 336.40v-4.5M363.00 182.60v4.5M420.20 336.40v-4.5M420.20 182.60v4.5M477.40 336.40v-4.5M477.40 182.60v4.5M534.60 336.40v-4.5M534.60 182.60v4.5M334.40 336.40v-2.2M334.40 182.60v2.2M391.60 336.40v-2.2M391.60 182.60v2.2M448.80 336.40v-2.2M448.80 182.60v2.2M506.00 336.40v-2.2M506.00 182.60v2.2M305.80 319.31h4.5M540.00 319.31h-4.5M305.80 285.13h4.5M540.00 285.13h-4.5M305.80 250.96h4.5M540.00 250.96h-4.5M305.80 216.78h4.5M540.00 216.78h-4.5M305.80 182.60h4.5M540.00 182.60h-4.5M305.80 336.40h2.2M540.00 336.40h-2.2M305.80 302.22h2.2M540.00 302.22h-2.2M305.80 268.04h2.2M540.00 268.04h-2.2M305.80 233.87h2.2M540.00 233.87h-2.2M305.80 199.69h2.2M540.00 199.69h-2.2" stroke="#000" stroke-width="1.5" fill="none"/>
<rect x="305.80" y="182.60" width="234.20" height="153.80" stroke="#000" stroke-width="1.55" fill="none"/>
<path d="M305.80 502.80v-4.5M305.80 349.20v4.5M363.00 502.80v-4.5M363.00 349.20v4.5M420.20 502.80v-4.5M420.20 349.20v4.5M477.40 502.80v-4.5M477.40 349.20v4.5M534.60 502.80v-4.5M534.60 349.20v4.5M334.40 502.80v-2.2M334.40 349.20v2.2M391.60 502.80v-2.2M391.60 349.20v2.2M448.80 502.80v-2.2M448.80 349.20v2.2M506.00 502.80v-2.2M506.00 349.20v2.2M305.80 502.80h4.5M540.00 502.80h-4.5M305.80 451.60h4.5M540.00 451.60h-4.5M305.80 400.40h4.5M540.00 400.40h-4.5M305.80 349.20h4.5M540.00 349.20h-4.5M305.80 477.20h2.2M540.00 477.20h-2.2M305.80 426.00h2.2M540.00 426.00h-2.2M305.80 374.80h2.2M540.00 374.80h-2.2" stroke="#000" stroke-width="1.5" fill="none"/>
<rect x="305.80" y="349.20" width="234.20" height="153.60" stroke="#000" stroke-width="1.55" fill="none"/>
<text x="47.80" y="149.00" font-size="14.2" text-anchor="end" font-weight="normal" >175</text>
<text x="47.80" y="106.17" font-size="14.2" text-anchor="end" font-weight="normal" >200</text>
<text x="47.80" y="63.33" font-size="14.2" text-anchor="end" font-weight="normal" >225</text>
<text x="47.80" y="20.50" font-size="14.2" text-anchor="end" font-weight="normal" >250</text>
<text x="47.80" y="324.31" font-size="14.2" text-anchor="end" font-weight="normal" >0.84</text>
<text x="47.80" y="290.13" font-size="14.2" text-anchor="end" font-weight="normal" >0.88</text>
<text x="47.80" y="255.96" font-size="14.2" text-anchor="end" font-weight="normal" >0.92</text>
<text x="47.80" y="221.78" font-size="14.2" text-anchor="end" font-weight="normal" >0.96</text>
<text x="47.80" y="187.60" font-size="14.2" text-anchor="end" font-weight="normal" >1.00</text>
<text x="47.80" y="507.80" font-size="14.2" text-anchor="end" font-weight="normal" >0.8</text>
<text x="47.80" y="456.60" font-size="14.2" text-anchor="end" font-weight="normal" >0.9</text>
<text x="47.80" y="405.40" font-size="14.2" text-anchor="end" font-weight="normal" >1.0</text>
<text x="47.80" y="354.20" font-size="14.2" text-anchor="end" font-weight="normal" >1.1</text>
<text x="52.75" y="518.60" font-size="14.2" text-anchor="middle" font-weight="normal" >0</text>
<text x="109.95" y="518.60" font-size="14.2" text-anchor="middle" font-weight="normal" >400</text>
<text x="167.15" y="518.60" font-size="14.2" text-anchor="middle" font-weight="normal" >800</text>
<text x="224.35" y="518.60" font-size="14.2" text-anchor="middle" font-weight="normal" >1200</text>
<text x="281.55" y="518.60" font-size="14.2" text-anchor="middle" font-weight="normal" >1600</text>
<text x="169.88" y="536.60" font-size="14" text-anchor="middle" font-weight="normal" >Cycle number</text>
<text x="305.80" y="518.60" font-size="14.2" text-anchor="middle" font-weight="normal" >0</text>
<text x="363.00" y="518.60" font-size="14.2" text-anchor="middle" font-weight="normal" >400</text>
<text x="420.20" y="518.60" font-size="14.2" text-anchor="middle" font-weight="normal" >800</text>
<text x="477.40" y="518.60" font-size="14.2" text-anchor="middle" font-weight="normal" >1200</text>
<text x="534.60" y="518.60" font-size="14.2" text-anchor="middle" font-weight="normal" >1600</text>
<text x="422.90" y="536.60" font-size="14" text-anchor="middle" font-weight="normal" >Cycle number</text>
<text x="169.88" y="11.60" font-size="15.2" text-anchor="middle" font-weight="bold" >2VC</text>
<text x="422.90" y="11.60" font-size="15.3" text-anchor="middle" font-weight="bold" >2VC+1DTD</text>
<text x="60.25" y="28.10" font-size="12.5" text-anchor="start" font-weight="bold" >a</text>
<text x="60.25" y="195.20" font-size="12.5" text-anchor="start" font-weight="bold" >b</text>
<text x="60.25" y="361.80" font-size="12.5" text-anchor="start" font-weight="bold" >c</text>
<text x="535.70" y="28.10" font-size="12.5" text-anchor="end" font-weight="bold" >d</text>
<text x="535.70" y="195.20" font-size="12.5" text-anchor="end" font-weight="bold" >e</text>
<text x="535.70" y="361.80" font-size="12.5" text-anchor="end" font-weight="bold" >f</text>
<text transform="translate(15.6,93.1) rotate(-90)" font-size="14.3" text-anchor="middle">Dis. capacity / mAh</text>
<text transform="translate(11.6,259.5) rotate(-90)" font-size="14.3" text-anchor="middle">Norm. capacity</text>
<text transform="translate(16.8,426.3) rotate(-90)" font-size="13.6" text-anchor="middle">ΔV/ΔV<tspan font-size="10" dy="4.5">10</tspan></text>
<rect x="168.3" y="22" width="112.5" height="46.4" rx="2.5" stroke="#222" stroke-width="1.6" fill="#fff"/>
<circle cx="180.2" cy="32.90" r="2.9" fill="#262626"/>
<text x="196.00" y="37.40" font-size="12.75" text-anchor="start" font-weight="normal" >low BET LFP</text>
<circle cx="180.2" cy="44.95" r="2.9" fill="#e5002a"/>
<text x="196.00" y="49.45" font-size="12.75" text-anchor="start" font-weight="normal" >med BET LFP</text>
<circle cx="180.2" cy="57.00" r="2.9" fill="#199fe0"/>
<text x="196.00" y="61.50" font-size="12.75" text-anchor="start" font-weight="normal" >hi BET LFP</text>
</g>
</svg></div>
</body></html>
